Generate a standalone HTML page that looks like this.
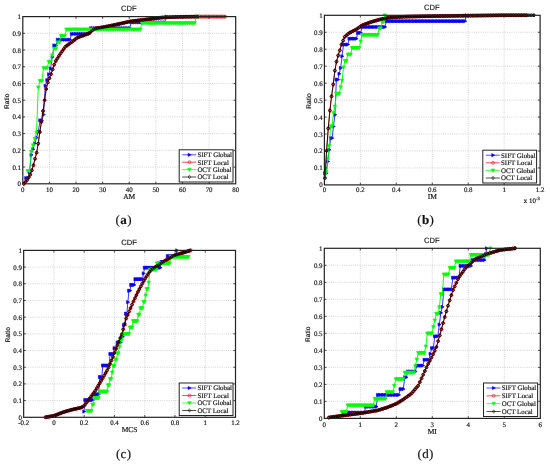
<!DOCTYPE html>
<html><head><meta charset="utf-8"><title>CDF</title>
<style>
html,body{margin:0;padding:0;background:#fff;}
body{width:550px;height:464px;overflow:hidden;}
svg{display:block;filter:blur(0.45px);}
text{text-rendering:geometricPrecision;stroke:#222;stroke-width:0.18px;}
.tk{font-family:"Liberation Serif",serif;font-size:6.9px;fill:#111;}
.ti{font-family:"Liberation Sans",sans-serif;font-size:7.6px;fill:#222;}
.yl{font-family:"Liberation Sans",sans-serif;font-size:6.6px;fill:#111;}
.xs{font-family:"Liberation Serif",serif;font-size:7.5px;fill:#111;}
.lg{font-family:"Liberation Serif",serif;font-size:6.9px;fill:#111;}
.sb{font-family:"Liberation Serif",serif;font-size:13px;fill:#111;letter-spacing:0.4px;}
</style></head><body>
<svg width="550" height="464" viewBox="0 0 550 464">
<rect width="550" height="464" fill="#fff"/>
<g>
<path d="M49.41 16.6V183.8M76.02 16.6V183.8M102.64 16.6V183.8M129.25 16.6V183.8M155.86 16.6V183.8M182.47 16.6V183.8M209.09 16.6V183.8M22.8 167.08H235.7M22.8 150.36H235.7M22.8 133.64H235.7M22.8 116.92H235.7M22.8 100.2H235.7M22.8 83.48H235.7M22.8 66.76H235.7M22.8 50.04H235.7M22.8 33.32H235.7" stroke="#bcbcbc" stroke-width="0.7" stroke-dasharray="0.9 1.3" fill="none"/>
<path d="M25.99 178.03L27.75 178.03L29.51 172.27L31.26 154.97L33.02 149.21L34.78 143.44L36.53 137.68L38.29 131.91L40.04 120.38L41.8 120.38L43.56 114.61L45.31 85.79L47.07 80.02L48.83 74.26L50.58 68.49L52.34 56.96L54.1 45.43L55.85 45.43L57.61 39.66L59.37 39.66L61.12 39.66L62.88 39.66L64.63 39.66L66.39 39.66L68.15 39.66L69.9 39.66L71.66 33.9L73.42 33.9L75.17 33.9L76.93 33.9L78.69 33.9L80.44 33.9L82.2 33.9L83.96 33.9L85.71 33.9L87.47 33.9L89.22 33.9L90.98 28.13L92.74 28.13L94.49 28.13L96.25 28.13L98.01 28.13L99.76 28.13L101.52 28.13L103.28 28.13L105.03 28.13L106.79 28.13L108.55 28.13L110.3 28.13L112.06 28.13L113.81 28.13L115.57 28.13L117.33 28.13L119.08 28.13L120.84 28.13L122.6 28.13L124.35 28.13L126.11 28.13L127.87 28.13L129.62 28.13L131.38 22.37L133.14 22.37L134.89 22.37L136.65 22.37L138.4 22.37L140.16 22.37L141.92 22.37L143.67 22.37L145.43 22.37L147.19 22.37L148.94 22.37L150.7 22.37L152.46 22.37L154.21 22.37L155.97 22.37L157.73 22.37L159.48 22.37L161.24 22.37L162.99 22.37L164.75 22.37L166.51 16.6" stroke="#0000ff" stroke-width="0.8" fill="none" stroke-linejoin="round"/>
<path d="M24.71 176.43l0 3.2l3.04 -1.6zM26.47 176.43l0 3.2l3.04 -1.6zM28.23 170.67l0 3.2l3.04 -1.6zM29.98 153.37l0 3.2l3.04 -1.6zM31.74 147.61l0 3.2l3.04 -1.6zM33.5 141.84l0 3.2l3.04 -1.6zM35.25 136.08l0 3.2l3.04 -1.6zM37.01 130.31l0 3.2l3.04 -1.6zM38.76 118.78l0 3.2l3.04 -1.6zM40.52 118.78l0 3.2l3.04 -1.6zM42.28 113.01l0 3.2l3.04 -1.6zM44.03 84.19l0 3.2l3.04 -1.6zM45.79 78.42l0 3.2l3.04 -1.6zM47.55 72.66l0 3.2l3.04 -1.6zM49.3 66.89l0 3.2l3.04 -1.6zM51.06 55.36l0 3.2l3.04 -1.6zM52.82 43.83l0 3.2l3.04 -1.6zM54.57 43.83l0 3.2l3.04 -1.6zM56.33 38.06l0 3.2l3.04 -1.6zM58.09 38.06l0 3.2l3.04 -1.6zM59.84 38.06l0 3.2l3.04 -1.6zM61.6 38.06l0 3.2l3.04 -1.6zM63.35 38.06l0 3.2l3.04 -1.6zM65.11 38.06l0 3.2l3.04 -1.6zM66.87 38.06l0 3.2l3.04 -1.6zM68.62 38.06l0 3.2l3.04 -1.6zM70.38 32.3l0 3.2l3.04 -1.6zM72.14 32.3l0 3.2l3.04 -1.6zM73.89 32.3l0 3.2l3.04 -1.6zM75.65 32.3l0 3.2l3.04 -1.6zM77.41 32.3l0 3.2l3.04 -1.6zM79.16 32.3l0 3.2l3.04 -1.6zM80.92 32.3l0 3.2l3.04 -1.6zM82.68 32.3l0 3.2l3.04 -1.6zM84.43 32.3l0 3.2l3.04 -1.6zM86.19 32.3l0 3.2l3.04 -1.6zM87.94 32.3l0 3.2l3.04 -1.6zM89.7 26.53l0 3.2l3.04 -1.6zM91.46 26.53l0 3.2l3.04 -1.6zM93.21 26.53l0 3.2l3.04 -1.6zM94.97 26.53l0 3.2l3.04 -1.6zM96.73 26.53l0 3.2l3.04 -1.6zM98.48 26.53l0 3.2l3.04 -1.6zM100.24 26.53l0 3.2l3.04 -1.6zM102 26.53l0 3.2l3.04 -1.6zM103.75 26.53l0 3.2l3.04 -1.6zM105.51 26.53l0 3.2l3.04 -1.6zM107.27 26.53l0 3.2l3.04 -1.6zM109.02 26.53l0 3.2l3.04 -1.6zM110.78 26.53l0 3.2l3.04 -1.6zM112.53 26.53l0 3.2l3.04 -1.6zM114.29 26.53l0 3.2l3.04 -1.6zM116.05 26.53l0 3.2l3.04 -1.6zM117.8 26.53l0 3.2l3.04 -1.6zM119.56 26.53l0 3.2l3.04 -1.6zM121.32 26.53l0 3.2l3.04 -1.6zM123.07 26.53l0 3.2l3.04 -1.6zM124.83 26.53l0 3.2l3.04 -1.6zM126.59 26.53l0 3.2l3.04 -1.6zM128.34 26.53l0 3.2l3.04 -1.6zM130.1 20.77l0 3.2l3.04 -1.6zM131.86 20.77l0 3.2l3.04 -1.6zM133.61 20.77l0 3.2l3.04 -1.6zM135.37 20.77l0 3.2l3.04 -1.6zM137.12 20.77l0 3.2l3.04 -1.6zM138.88 20.77l0 3.2l3.04 -1.6zM140.64 20.77l0 3.2l3.04 -1.6zM142.39 20.77l0 3.2l3.04 -1.6zM144.15 20.77l0 3.2l3.04 -1.6zM145.91 20.77l0 3.2l3.04 -1.6zM147.66 20.77l0 3.2l3.04 -1.6zM149.42 20.77l0 3.2l3.04 -1.6zM151.18 20.77l0 3.2l3.04 -1.6zM152.93 20.77l0 3.2l3.04 -1.6zM154.69 20.77l0 3.2l3.04 -1.6zM156.45 20.77l0 3.2l3.04 -1.6zM158.2 20.77l0 3.2l3.04 -1.6zM159.96 20.77l0 3.2l3.04 -1.6zM161.71 20.77l0 3.2l3.04 -1.6zM163.47 20.77l0 3.2l3.04 -1.6zM165.23 15l0 3.2l3.04 -1.6z" stroke="#0000ff" stroke-width="0.7" fill="#0000ff"/>
<path d="M23.86 183.8L25.46 181.98L27.06 180.04L28.65 177.53L30.25 174.7L31.85 170.26L33.45 165.23L35.04 158.72L36.64 152.7L38.24 143.53L39.83 131.97L41.43 121.94L43.03 111.07L44.62 100.2L46.22 88.91L47.82 82.4L49.41 78.27L51.01 74.14L52.61 69.45L54.2 64.65L55.8 60.96L57.4 58.39L58.99 55.82L60.59 53.5L62.19 51.23L63.78 48.96L65.38 46.7L66.98 45.54L68.57 44.39L70.17 43.23L71.77 42.03L73.36 40.79L74.96 39.56L76.56 38.32L78.15 37.31L79.75 36.73L81.35 36.14L82.94 35.57L84.54 34.99L86.14 34.42L87.73 33.62L89.33 32.77L90.93 31.59L92.52 30.25L94.12 29.06L95.72 28.6L97.31 28.14L98.91 27.89L100.51 27.64L102.11 27.38L103.7 27.09L105.3 26.77L106.9 26.45L108.49 26.13L110.09 25.82L111.69 25.5L113.28 25.18L114.88 24.84L116.48 24.49L118.07 24.15L119.67 23.8L121.27 23.46L122.86 23.09L124.46 22.73L126.06 22.36L127.65 22L129.25 21.63L130.85 21.35L132.44 21.16L134.04 20.97L135.64 20.78L137.23 20.59L138.83 20.4L140.43 20.21L142.02 20.01L143.62 19.81L145.22 19.61L146.81 19.41L148.41 19.21L150.01 19.01L151.6 18.81L153.2 18.61L154.8 18.41L156.39 18.21L157.99 18L159.59 17.8L161.19 17.6L162.78 17.53L164.38 17.45L165.98 17.38L167.57 17.3L169.17 17.23L170.77 17.15L172.36 17.08L173.96 17.03L175.56 16.98L177.15 16.93L178.75 16.88L180.35 16.83L181.94 16.78L183.54 16.76L185.14 16.74L186.73 16.72L188.33 16.71L189.93 16.69L191.52 16.67L193.12 16.66L194.72 16.64L196.31 16.62L197.91 16.61L199.51 16.6L201.1 16.6L202.7 16.6L204.3 16.6L205.89 16.6L207.49 16.6L209.09 16.6L210.68 16.6L212.28 16.6L213.88 16.6L215.47 16.6L217.07 16.6L218.67 16.6L220.26 16.6L221.86 16.6L223.46 16.6L225.05 16.6" stroke="#ff0000" stroke-width="0.8" fill="none" stroke-linejoin="round"/>
<path d="M22.41 183.8a1.45 1.45 0 1 0 2.9 0a1.45 1.45 0 1 0 -2.9 0zM24.01 181.98a1.45 1.45 0 1 0 2.9 0a1.45 1.45 0 1 0 -2.9 0zM25.61 180.04a1.45 1.45 0 1 0 2.9 0a1.45 1.45 0 1 0 -2.9 0zM27.2 177.53a1.45 1.45 0 1 0 2.9 0a1.45 1.45 0 1 0 -2.9 0zM28.8 174.7a1.45 1.45 0 1 0 2.9 0a1.45 1.45 0 1 0 -2.9 0zM30.4 170.26a1.45 1.45 0 1 0 2.9 0a1.45 1.45 0 1 0 -2.9 0zM32 165.23a1.45 1.45 0 1 0 2.9 0a1.45 1.45 0 1 0 -2.9 0zM33.59 158.72a1.45 1.45 0 1 0 2.9 0a1.45 1.45 0 1 0 -2.9 0zM35.19 152.7a1.45 1.45 0 1 0 2.9 0a1.45 1.45 0 1 0 -2.9 0zM36.79 143.53a1.45 1.45 0 1 0 2.9 0a1.45 1.45 0 1 0 -2.9 0zM38.38 131.97a1.45 1.45 0 1 0 2.9 0a1.45 1.45 0 1 0 -2.9 0zM39.98 121.94a1.45 1.45 0 1 0 2.9 0a1.45 1.45 0 1 0 -2.9 0zM41.58 111.07a1.45 1.45 0 1 0 2.9 0a1.45 1.45 0 1 0 -2.9 0zM43.17 100.2a1.45 1.45 0 1 0 2.9 0a1.45 1.45 0 1 0 -2.9 0zM44.77 88.91a1.45 1.45 0 1 0 2.9 0a1.45 1.45 0 1 0 -2.9 0zM46.37 82.4a1.45 1.45 0 1 0 2.9 0a1.45 1.45 0 1 0 -2.9 0zM47.96 78.27a1.45 1.45 0 1 0 2.9 0a1.45 1.45 0 1 0 -2.9 0zM49.56 74.14a1.45 1.45 0 1 0 2.9 0a1.45 1.45 0 1 0 -2.9 0zM51.16 69.45a1.45 1.45 0 1 0 2.9 0a1.45 1.45 0 1 0 -2.9 0zM52.75 64.65a1.45 1.45 0 1 0 2.9 0a1.45 1.45 0 1 0 -2.9 0zM54.35 60.96a1.45 1.45 0 1 0 2.9 0a1.45 1.45 0 1 0 -2.9 0zM55.95 58.39a1.45 1.45 0 1 0 2.9 0a1.45 1.45 0 1 0 -2.9 0zM57.54 55.82a1.45 1.45 0 1 0 2.9 0a1.45 1.45 0 1 0 -2.9 0zM59.14 53.5a1.45 1.45 0 1 0 2.9 0a1.45 1.45 0 1 0 -2.9 0zM60.74 51.23a1.45 1.45 0 1 0 2.9 0a1.45 1.45 0 1 0 -2.9 0zM62.33 48.96a1.45 1.45 0 1 0 2.9 0a1.45 1.45 0 1 0 -2.9 0zM63.93 46.7a1.45 1.45 0 1 0 2.9 0a1.45 1.45 0 1 0 -2.9 0zM65.53 45.54a1.45 1.45 0 1 0 2.9 0a1.45 1.45 0 1 0 -2.9 0zM67.12 44.39a1.45 1.45 0 1 0 2.9 0a1.45 1.45 0 1 0 -2.9 0zM68.72 43.23a1.45 1.45 0 1 0 2.9 0a1.45 1.45 0 1 0 -2.9 0zM70.32 42.03a1.45 1.45 0 1 0 2.9 0a1.45 1.45 0 1 0 -2.9 0zM71.91 40.79a1.45 1.45 0 1 0 2.9 0a1.45 1.45 0 1 0 -2.9 0zM73.51 39.56a1.45 1.45 0 1 0 2.9 0a1.45 1.45 0 1 0 -2.9 0zM75.11 38.32a1.45 1.45 0 1 0 2.9 0a1.45 1.45 0 1 0 -2.9 0zM76.7 37.31a1.45 1.45 0 1 0 2.9 0a1.45 1.45 0 1 0 -2.9 0zM78.3 36.73a1.45 1.45 0 1 0 2.9 0a1.45 1.45 0 1 0 -2.9 0zM79.9 36.14a1.45 1.45 0 1 0 2.9 0a1.45 1.45 0 1 0 -2.9 0zM81.49 35.57a1.45 1.45 0 1 0 2.9 0a1.45 1.45 0 1 0 -2.9 0zM83.09 34.99a1.45 1.45 0 1 0 2.9 0a1.45 1.45 0 1 0 -2.9 0zM84.69 34.42a1.45 1.45 0 1 0 2.9 0a1.45 1.45 0 1 0 -2.9 0zM86.28 33.62a1.45 1.45 0 1 0 2.9 0a1.45 1.45 0 1 0 -2.9 0zM87.88 32.77a1.45 1.45 0 1 0 2.9 0a1.45 1.45 0 1 0 -2.9 0zM89.48 31.59a1.45 1.45 0 1 0 2.9 0a1.45 1.45 0 1 0 -2.9 0zM91.07 30.25a1.45 1.45 0 1 0 2.9 0a1.45 1.45 0 1 0 -2.9 0zM92.67 29.06a1.45 1.45 0 1 0 2.9 0a1.45 1.45 0 1 0 -2.9 0zM94.27 28.6a1.45 1.45 0 1 0 2.9 0a1.45 1.45 0 1 0 -2.9 0zM95.86 28.14a1.45 1.45 0 1 0 2.9 0a1.45 1.45 0 1 0 -2.9 0zM97.46 27.89a1.45 1.45 0 1 0 2.9 0a1.45 1.45 0 1 0 -2.9 0zM99.06 27.64a1.45 1.45 0 1 0 2.9 0a1.45 1.45 0 1 0 -2.9 0zM100.66 27.38a1.45 1.45 0 1 0 2.9 0a1.45 1.45 0 1 0 -2.9 0zM102.25 27.09a1.45 1.45 0 1 0 2.9 0a1.45 1.45 0 1 0 -2.9 0zM103.85 26.77a1.45 1.45 0 1 0 2.9 0a1.45 1.45 0 1 0 -2.9 0zM105.45 26.45a1.45 1.45 0 1 0 2.9 0a1.45 1.45 0 1 0 -2.9 0zM107.04 26.13a1.45 1.45 0 1 0 2.9 0a1.45 1.45 0 1 0 -2.9 0zM108.64 25.82a1.45 1.45 0 1 0 2.9 0a1.45 1.45 0 1 0 -2.9 0zM110.24 25.5a1.45 1.45 0 1 0 2.9 0a1.45 1.45 0 1 0 -2.9 0zM111.83 25.18a1.45 1.45 0 1 0 2.9 0a1.45 1.45 0 1 0 -2.9 0zM113.43 24.84a1.45 1.45 0 1 0 2.9 0a1.45 1.45 0 1 0 -2.9 0zM115.03 24.49a1.45 1.45 0 1 0 2.9 0a1.45 1.45 0 1 0 -2.9 0zM116.62 24.15a1.45 1.45 0 1 0 2.9 0a1.45 1.45 0 1 0 -2.9 0zM118.22 23.8a1.45 1.45 0 1 0 2.9 0a1.45 1.45 0 1 0 -2.9 0zM119.82 23.46a1.45 1.45 0 1 0 2.9 0a1.45 1.45 0 1 0 -2.9 0zM121.41 23.09a1.45 1.45 0 1 0 2.9 0a1.45 1.45 0 1 0 -2.9 0zM123.01 22.73a1.45 1.45 0 1 0 2.9 0a1.45 1.45 0 1 0 -2.9 0zM124.61 22.36a1.45 1.45 0 1 0 2.9 0a1.45 1.45 0 1 0 -2.9 0zM126.2 22a1.45 1.45 0 1 0 2.9 0a1.45 1.45 0 1 0 -2.9 0zM127.8 21.63a1.45 1.45 0 1 0 2.9 0a1.45 1.45 0 1 0 -2.9 0zM129.4 21.35a1.45 1.45 0 1 0 2.9 0a1.45 1.45 0 1 0 -2.9 0zM130.99 21.16a1.45 1.45 0 1 0 2.9 0a1.45 1.45 0 1 0 -2.9 0zM132.59 20.97a1.45 1.45 0 1 0 2.9 0a1.45 1.45 0 1 0 -2.9 0zM134.19 20.78a1.45 1.45 0 1 0 2.9 0a1.45 1.45 0 1 0 -2.9 0zM135.78 20.59a1.45 1.45 0 1 0 2.9 0a1.45 1.45 0 1 0 -2.9 0zM137.38 20.4a1.45 1.45 0 1 0 2.9 0a1.45 1.45 0 1 0 -2.9 0zM138.98 20.21a1.45 1.45 0 1 0 2.9 0a1.45 1.45 0 1 0 -2.9 0zM140.57 20.01a1.45 1.45 0 1 0 2.9 0a1.45 1.45 0 1 0 -2.9 0zM142.17 19.81a1.45 1.45 0 1 0 2.9 0a1.45 1.45 0 1 0 -2.9 0zM143.77 19.61a1.45 1.45 0 1 0 2.9 0a1.45 1.45 0 1 0 -2.9 0zM145.36 19.41a1.45 1.45 0 1 0 2.9 0a1.45 1.45 0 1 0 -2.9 0zM146.96 19.21a1.45 1.45 0 1 0 2.9 0a1.45 1.45 0 1 0 -2.9 0zM148.56 19.01a1.45 1.45 0 1 0 2.9 0a1.45 1.45 0 1 0 -2.9 0zM150.15 18.81a1.45 1.45 0 1 0 2.9 0a1.45 1.45 0 1 0 -2.9 0zM151.75 18.61a1.45 1.45 0 1 0 2.9 0a1.45 1.45 0 1 0 -2.9 0zM153.35 18.41a1.45 1.45 0 1 0 2.9 0a1.45 1.45 0 1 0 -2.9 0zM154.94 18.21a1.45 1.45 0 1 0 2.9 0a1.45 1.45 0 1 0 -2.9 0zM156.54 18a1.45 1.45 0 1 0 2.9 0a1.45 1.45 0 1 0 -2.9 0zM158.14 17.8a1.45 1.45 0 1 0 2.9 0a1.45 1.45 0 1 0 -2.9 0zM159.74 17.6a1.45 1.45 0 1 0 2.9 0a1.45 1.45 0 1 0 -2.9 0zM161.33 17.53a1.45 1.45 0 1 0 2.9 0a1.45 1.45 0 1 0 -2.9 0zM162.93 17.45a1.45 1.45 0 1 0 2.9 0a1.45 1.45 0 1 0 -2.9 0zM164.53 17.38a1.45 1.45 0 1 0 2.9 0a1.45 1.45 0 1 0 -2.9 0zM166.12 17.3a1.45 1.45 0 1 0 2.9 0a1.45 1.45 0 1 0 -2.9 0zM167.72 17.23a1.45 1.45 0 1 0 2.9 0a1.45 1.45 0 1 0 -2.9 0zM169.32 17.15a1.45 1.45 0 1 0 2.9 0a1.45 1.45 0 1 0 -2.9 0zM170.91 17.08a1.45 1.45 0 1 0 2.9 0a1.45 1.45 0 1 0 -2.9 0zM172.51 17.03a1.45 1.45 0 1 0 2.9 0a1.45 1.45 0 1 0 -2.9 0zM174.11 16.98a1.45 1.45 0 1 0 2.9 0a1.45 1.45 0 1 0 -2.9 0zM175.7 16.93a1.45 1.45 0 1 0 2.9 0a1.45 1.45 0 1 0 -2.9 0zM177.3 16.88a1.45 1.45 0 1 0 2.9 0a1.45 1.45 0 1 0 -2.9 0zM178.9 16.83a1.45 1.45 0 1 0 2.9 0a1.45 1.45 0 1 0 -2.9 0zM180.49 16.78a1.45 1.45 0 1 0 2.9 0a1.45 1.45 0 1 0 -2.9 0zM182.09 16.76a1.45 1.45 0 1 0 2.9 0a1.45 1.45 0 1 0 -2.9 0zM183.69 16.74a1.45 1.45 0 1 0 2.9 0a1.45 1.45 0 1 0 -2.9 0zM185.28 16.72a1.45 1.45 0 1 0 2.9 0a1.45 1.45 0 1 0 -2.9 0zM186.88 16.71a1.45 1.45 0 1 0 2.9 0a1.45 1.45 0 1 0 -2.9 0zM188.48 16.69a1.45 1.45 0 1 0 2.9 0a1.45 1.45 0 1 0 -2.9 0zM190.07 16.67a1.45 1.45 0 1 0 2.9 0a1.45 1.45 0 1 0 -2.9 0zM191.67 16.66a1.45 1.45 0 1 0 2.9 0a1.45 1.45 0 1 0 -2.9 0zM193.27 16.64a1.45 1.45 0 1 0 2.9 0a1.45 1.45 0 1 0 -2.9 0zM194.86 16.62a1.45 1.45 0 1 0 2.9 0a1.45 1.45 0 1 0 -2.9 0zM196.46 16.61a1.45 1.45 0 1 0 2.9 0a1.45 1.45 0 1 0 -2.9 0zM198.06 16.6a1.45 1.45 0 1 0 2.9 0a1.45 1.45 0 1 0 -2.9 0zM199.65 16.6a1.45 1.45 0 1 0 2.9 0a1.45 1.45 0 1 0 -2.9 0zM201.25 16.6a1.45 1.45 0 1 0 2.9 0a1.45 1.45 0 1 0 -2.9 0zM202.85 16.6a1.45 1.45 0 1 0 2.9 0a1.45 1.45 0 1 0 -2.9 0zM204.44 16.6a1.45 1.45 0 1 0 2.9 0a1.45 1.45 0 1 0 -2.9 0zM206.04 16.6a1.45 1.45 0 1 0 2.9 0a1.45 1.45 0 1 0 -2.9 0zM207.64 16.6a1.45 1.45 0 1 0 2.9 0a1.45 1.45 0 1 0 -2.9 0zM209.23 16.6a1.45 1.45 0 1 0 2.9 0a1.45 1.45 0 1 0 -2.9 0zM210.83 16.6a1.45 1.45 0 1 0 2.9 0a1.45 1.45 0 1 0 -2.9 0zM212.43 16.6a1.45 1.45 0 1 0 2.9 0a1.45 1.45 0 1 0 -2.9 0zM214.02 16.6a1.45 1.45 0 1 0 2.9 0a1.45 1.45 0 1 0 -2.9 0zM215.62 16.6a1.45 1.45 0 1 0 2.9 0a1.45 1.45 0 1 0 -2.9 0zM217.22 16.6a1.45 1.45 0 1 0 2.9 0a1.45 1.45 0 1 0 -2.9 0zM218.81 16.6a1.45 1.45 0 1 0 2.9 0a1.45 1.45 0 1 0 -2.9 0zM220.41 16.6a1.45 1.45 0 1 0 2.9 0a1.45 1.45 0 1 0 -2.9 0zM222.01 16.6a1.45 1.45 0 1 0 2.9 0a1.45 1.45 0 1 0 -2.9 0zM223.6 16.6a1.45 1.45 0 1 0 2.9 0a1.45 1.45 0 1 0 -2.9 0z" stroke="#ff0000" stroke-width="1.0" fill="none"/>
<path d="M27.75 170.94L29.51 170.94L31.26 151.65L33.02 145.22L34.78 138.78L36.53 132.35L38.29 87.34L40.04 80.91L41.8 80.91L43.56 68.05L45.31 68.05L47.07 68.05L48.83 61.62L50.58 61.62L52.34 55.18L54.1 48.75L55.85 48.75L57.61 42.32L59.37 42.32L61.12 35.89L62.88 35.89L64.63 35.89L66.39 29.46L68.15 29.46L69.9 29.46L71.66 29.46L73.42 29.46L75.17 29.46L76.93 29.46L78.69 29.46L80.44 29.46L82.2 29.46L83.96 29.46L85.71 29.46L87.47 29.46L89.22 29.46L90.98 29.46L92.74 29.46L94.49 29.46L96.25 29.46L98.01 29.46L99.76 29.46L101.52 29.46L103.28 29.46L105.03 29.46L106.79 29.46L108.55 29.46L110.3 29.46L112.06 29.46L113.81 29.46L115.57 29.46L117.33 29.46L119.08 29.46L120.84 29.46L122.6 29.46L124.35 29.46L126.11 29.46L127.87 29.46L129.62 29.46L131.38 29.46L133.14 29.46L134.89 29.46L136.65 29.46L138.4 29.46L140.16 29.46L141.92 23.03L143.67 23.03L145.43 23.03L147.19 23.03L148.94 23.03L150.7 23.03L152.46 23.03L154.21 23.03L155.97 23.03L157.73 23.03L159.48 23.03L161.24 23.03L162.99 23.03L164.75 23.03L166.51 23.03L168.26 23.03L170.02 23.03L171.78 23.03L173.53 23.03L175.29 23.03L177.05 23.03L178.8 23.03L180.56 23.03L182.32 23.03L184.07 23.03L185.83 23.03L187.58 23.03L189.34 23.03L191.1 23.03L192.85 23.03L194.61 23.03L196.37 16.6L198.12 16.6" stroke="#00ff00" stroke-width="0.9" fill="none" stroke-linejoin="round"/>
<path d="M26.05 169.58l3.4 0l-1.7 3.23zM27.81 169.58l3.4 0l-1.7 3.23zM29.56 150.29l3.4 0l-1.7 3.23zM31.32 143.86l3.4 0l-1.7 3.23zM33.08 137.42l3.4 0l-1.7 3.23zM34.83 130.99l3.4 0l-1.7 3.23zM36.59 85.98l3.4 0l-1.7 3.23zM38.34 79.55l3.4 0l-1.7 3.23zM40.1 79.55l3.4 0l-1.7 3.23zM41.86 66.69l3.4 0l-1.7 3.23zM43.61 66.69l3.4 0l-1.7 3.23zM45.37 66.69l3.4 0l-1.7 3.23zM47.13 60.26l3.4 0l-1.7 3.23zM48.88 60.26l3.4 0l-1.7 3.23zM50.64 53.82l3.4 0l-1.7 3.23zM52.4 47.39l3.4 0l-1.7 3.23zM54.15 47.39l3.4 0l-1.7 3.23zM55.91 40.96l3.4 0l-1.7 3.23zM57.67 40.96l3.4 0l-1.7 3.23zM59.42 34.53l3.4 0l-1.7 3.23zM61.18 34.53l3.4 0l-1.7 3.23zM62.93 34.53l3.4 0l-1.7 3.23zM64.69 28.1l3.4 0l-1.7 3.23zM66.45 28.1l3.4 0l-1.7 3.23zM68.2 28.1l3.4 0l-1.7 3.23zM69.96 28.1l3.4 0l-1.7 3.23zM71.72 28.1l3.4 0l-1.7 3.23zM73.47 28.1l3.4 0l-1.7 3.23zM75.23 28.1l3.4 0l-1.7 3.23zM76.99 28.1l3.4 0l-1.7 3.23zM78.74 28.1l3.4 0l-1.7 3.23zM80.5 28.1l3.4 0l-1.7 3.23zM82.26 28.1l3.4 0l-1.7 3.23zM84.01 28.1l3.4 0l-1.7 3.23zM85.77 28.1l3.4 0l-1.7 3.23zM87.52 28.1l3.4 0l-1.7 3.23zM89.28 28.1l3.4 0l-1.7 3.23zM91.04 28.1l3.4 0l-1.7 3.23zM92.79 28.1l3.4 0l-1.7 3.23zM94.55 28.1l3.4 0l-1.7 3.23zM96.31 28.1l3.4 0l-1.7 3.23zM98.06 28.1l3.4 0l-1.7 3.23zM99.82 28.1l3.4 0l-1.7 3.23zM101.58 28.1l3.4 0l-1.7 3.23zM103.33 28.1l3.4 0l-1.7 3.23zM105.09 28.1l3.4 0l-1.7 3.23zM106.85 28.1l3.4 0l-1.7 3.23zM108.6 28.1l3.4 0l-1.7 3.23zM110.36 28.1l3.4 0l-1.7 3.23zM112.11 28.1l3.4 0l-1.7 3.23zM113.87 28.1l3.4 0l-1.7 3.23zM115.63 28.1l3.4 0l-1.7 3.23zM117.38 28.1l3.4 0l-1.7 3.23zM119.14 28.1l3.4 0l-1.7 3.23zM120.9 28.1l3.4 0l-1.7 3.23zM122.65 28.1l3.4 0l-1.7 3.23zM124.41 28.1l3.4 0l-1.7 3.23zM126.17 28.1l3.4 0l-1.7 3.23zM127.92 28.1l3.4 0l-1.7 3.23zM129.68 28.1l3.4 0l-1.7 3.23zM131.44 28.1l3.4 0l-1.7 3.23zM133.19 28.1l3.4 0l-1.7 3.23zM134.95 28.1l3.4 0l-1.7 3.23zM136.7 28.1l3.4 0l-1.7 3.23zM138.46 28.1l3.4 0l-1.7 3.23zM140.22 21.67l3.4 0l-1.7 3.23zM141.97 21.67l3.4 0l-1.7 3.23zM143.73 21.67l3.4 0l-1.7 3.23zM145.49 21.67l3.4 0l-1.7 3.23zM147.24 21.67l3.4 0l-1.7 3.23zM149 21.67l3.4 0l-1.7 3.23zM150.76 21.67l3.4 0l-1.7 3.23zM152.51 21.67l3.4 0l-1.7 3.23zM154.27 21.67l3.4 0l-1.7 3.23zM156.03 21.67l3.4 0l-1.7 3.23zM157.78 21.67l3.4 0l-1.7 3.23zM159.54 21.67l3.4 0l-1.7 3.23zM161.29 21.67l3.4 0l-1.7 3.23zM163.05 21.67l3.4 0l-1.7 3.23zM164.81 21.67l3.4 0l-1.7 3.23zM166.56 21.67l3.4 0l-1.7 3.23zM168.32 21.67l3.4 0l-1.7 3.23zM170.08 21.67l3.4 0l-1.7 3.23zM171.83 21.67l3.4 0l-1.7 3.23zM173.59 21.67l3.4 0l-1.7 3.23zM175.35 21.67l3.4 0l-1.7 3.23zM177.1 21.67l3.4 0l-1.7 3.23zM178.86 21.67l3.4 0l-1.7 3.23zM180.62 21.67l3.4 0l-1.7 3.23zM182.37 21.67l3.4 0l-1.7 3.23zM184.13 21.67l3.4 0l-1.7 3.23zM185.88 21.67l3.4 0l-1.7 3.23zM187.64 21.67l3.4 0l-1.7 3.23zM189.4 21.67l3.4 0l-1.7 3.23zM191.15 21.67l3.4 0l-1.7 3.23zM192.91 21.67l3.4 0l-1.7 3.23zM194.67 15.24l3.4 0l-1.7 3.23zM196.42 15.24l3.4 0l-1.7 3.23z" stroke="#00ff00" stroke-width="0.7" fill="#00ff00"/>
<path d="M23.86 183.8L25.46 181.98L27.06 180.04L28.65 177.53L30.25 174.7L31.85 170.26L33.45 165.23L35.04 158.72L36.64 152.7L38.24 143.53L39.83 131.97L41.43 121.94L43.03 111.07L44.62 100.2L46.22 88.91L47.82 82.4L49.41 78.27L51.01 74.14L52.61 69.45L54.2 64.65L55.8 60.96L57.4 58.39L58.99 55.82L60.59 53.5L62.19 51.23L63.78 48.96L65.38 46.7L66.98 45.54L68.57 44.39L70.17 43.23L71.77 42.03L73.36 40.79L74.96 39.56L76.56 38.32L78.15 37.31L79.75 36.73L81.35 36.14L82.94 35.57L84.54 34.99L86.14 34.42L87.73 33.62L89.33 32.77L90.93 31.59L92.52 30.25L94.12 29.06L95.72 28.6L97.31 28.14L98.91 27.89L100.51 27.64L102.11 27.38L103.7 27.09L105.3 26.77L106.9 26.45L108.49 26.13L110.09 25.82L111.69 25.5L113.28 25.18L114.88 24.84L116.48 24.49L118.07 24.15L119.67 23.8L121.27 23.46L122.86 23.09L124.46 22.73L126.06 22.36L127.65 22L129.25 21.63L130.85 21.35L132.44 21.16L134.04 20.97L135.64 20.78L137.23 20.59L138.83 20.4L140.43 20.21L142.02 20.01L143.62 19.81L145.22 19.61L146.81 19.41L148.41 19.21L150.01 19.01L151.6 18.81L153.2 18.61L154.8 18.41L156.39 18.21L157.99 18L159.59 17.8L161.19 17.6L162.78 17.53L164.38 17.45L165.98 17.38L167.57 17.3L169.17 17.23L170.77 17.15L172.36 17.08L173.96 17.03L175.56 16.98L177.15 16.93L178.75 16.88L180.35 16.83L181.94 16.78L183.54 16.76L185.14 16.74L186.73 16.72L188.33 16.71L189.93 16.69L191.52 16.67L193.12 16.66L194.72 16.64L196.31 16.62L197.91 16.61" stroke="#000000" stroke-width="0.8" fill="none" stroke-linejoin="round"/>
<path d="M23.86 182.11l1.25 1.69l-1.25 1.69l-1.25 -1.69zM25.46 180.29l1.25 1.69l-1.25 1.69l-1.25 -1.69zM27.06 178.35l1.25 1.69l-1.25 1.69l-1.25 -1.69zM28.65 175.84l1.25 1.69l-1.25 1.69l-1.25 -1.69zM30.25 173.01l1.25 1.69l-1.25 1.69l-1.25 -1.69zM31.85 168.57l1.25 1.69l-1.25 1.69l-1.25 -1.69zM33.45 163.55l1.25 1.69l-1.25 1.69l-1.25 -1.69zM35.04 157.03l1.25 1.69l-1.25 1.69l-1.25 -1.69zM36.64 151.01l1.25 1.69l-1.25 1.69l-1.25 -1.69zM38.24 141.84l1.25 1.69l-1.25 1.69l-1.25 -1.69zM39.83 130.28l1.25 1.69l-1.25 1.69l-1.25 -1.69zM41.43 120.25l1.25 1.69l-1.25 1.69l-1.25 -1.69zM43.03 109.38l1.25 1.69l-1.25 1.69l-1.25 -1.69zM44.62 98.51l1.25 1.69l-1.25 1.69l-1.25 -1.69zM46.22 87.23l1.25 1.69l-1.25 1.69l-1.25 -1.69zM47.82 80.71l1.25 1.69l-1.25 1.69l-1.25 -1.69zM49.41 76.58l1.25 1.69l-1.25 1.69l-1.25 -1.69zM51.01 72.45l1.25 1.69l-1.25 1.69l-1.25 -1.69zM52.61 67.76l1.25 1.69l-1.25 1.69l-1.25 -1.69zM54.2 62.96l1.25 1.69l-1.25 1.69l-1.25 -1.69zM55.8 59.27l1.25 1.69l-1.25 1.69l-1.25 -1.69zM57.4 56.7l1.25 1.69l-1.25 1.69l-1.25 -1.69zM58.99 54.13l1.25 1.69l-1.25 1.69l-1.25 -1.69zM60.59 51.81l1.25 1.69l-1.25 1.69l-1.25 -1.69zM62.19 49.54l1.25 1.69l-1.25 1.69l-1.25 -1.69zM63.78 47.28l1.25 1.69l-1.25 1.69l-1.25 -1.69zM65.38 45.01l1.25 1.69l-1.25 1.69l-1.25 -1.69zM66.98 43.85l1.25 1.69l-1.25 1.69l-1.25 -1.69zM68.57 42.7l1.25 1.69l-1.25 1.69l-1.25 -1.69zM70.17 41.55l1.25 1.69l-1.25 1.69l-1.25 -1.69zM71.77 40.34l1.25 1.69l-1.25 1.69l-1.25 -1.69zM73.36 39.11l1.25 1.69l-1.25 1.69l-1.25 -1.69zM74.96 37.87l1.25 1.69l-1.25 1.69l-1.25 -1.69zM76.56 36.64l1.25 1.69l-1.25 1.69l-1.25 -1.69zM78.15 35.62l1.25 1.69l-1.25 1.69l-1.25 -1.69zM79.75 35.04l1.25 1.69l-1.25 1.69l-1.25 -1.69zM81.35 34.46l1.25 1.69l-1.25 1.69l-1.25 -1.69zM82.94 33.88l1.25 1.69l-1.25 1.69l-1.25 -1.69zM84.54 33.3l1.25 1.69l-1.25 1.69l-1.25 -1.69zM86.14 32.73l1.25 1.69l-1.25 1.69l-1.25 -1.69zM87.73 31.93l1.25 1.69l-1.25 1.69l-1.25 -1.69zM89.33 31.08l1.25 1.69l-1.25 1.69l-1.25 -1.69zM90.93 29.9l1.25 1.69l-1.25 1.69l-1.25 -1.69zM92.52 28.57l1.25 1.69l-1.25 1.69l-1.25 -1.69zM94.12 27.38l1.25 1.69l-1.25 1.69l-1.25 -1.69zM95.72 26.91l1.25 1.69l-1.25 1.69l-1.25 -1.69zM97.31 26.45l1.25 1.69l-1.25 1.69l-1.25 -1.69zM98.91 26.2l1.25 1.69l-1.25 1.69l-1.25 -1.69zM100.51 25.95l1.25 1.69l-1.25 1.69l-1.25 -1.69zM102.11 25.7l1.25 1.69l-1.25 1.69l-1.25 -1.69zM103.7 25.4l1.25 1.69l-1.25 1.69l-1.25 -1.69zM105.3 25.08l1.25 1.69l-1.25 1.69l-1.25 -1.69zM106.9 24.77l1.25 1.69l-1.25 1.69l-1.25 -1.69zM108.49 24.45l1.25 1.69l-1.25 1.69l-1.25 -1.69zM110.09 24.13l1.25 1.69l-1.25 1.69l-1.25 -1.69zM111.69 23.81l1.25 1.69l-1.25 1.69l-1.25 -1.69zM113.28 23.49l1.25 1.69l-1.25 1.69l-1.25 -1.69zM114.88 23.15l1.25 1.69l-1.25 1.69l-1.25 -1.69zM116.48 22.81l1.25 1.69l-1.25 1.69l-1.25 -1.69zM118.07 22.46l1.25 1.69l-1.25 1.69l-1.25 -1.69zM119.67 22.11l1.25 1.69l-1.25 1.69l-1.25 -1.69zM121.27 21.77l1.25 1.69l-1.25 1.69l-1.25 -1.69zM122.86 21.4l1.25 1.69l-1.25 1.69l-1.25 -1.69zM124.46 21.04l1.25 1.69l-1.25 1.69l-1.25 -1.69zM126.06 20.67l1.25 1.69l-1.25 1.69l-1.25 -1.69zM127.65 20.31l1.25 1.69l-1.25 1.69l-1.25 -1.69zM129.25 19.94l1.25 1.69l-1.25 1.69l-1.25 -1.69zM130.85 19.67l1.25 1.69l-1.25 1.69l-1.25 -1.69zM132.44 19.48l1.25 1.69l-1.25 1.69l-1.25 -1.69zM134.04 19.29l1.25 1.69l-1.25 1.69l-1.25 -1.69zM135.64 19.1l1.25 1.69l-1.25 1.69l-1.25 -1.69zM137.23 18.91l1.25 1.69l-1.25 1.69l-1.25 -1.69zM138.83 18.72l1.25 1.69l-1.25 1.69l-1.25 -1.69zM140.43 18.52l1.25 1.69l-1.25 1.69l-1.25 -1.69zM142.02 18.32l1.25 1.69l-1.25 1.69l-1.25 -1.69zM143.62 18.12l1.25 1.69l-1.25 1.69l-1.25 -1.69zM145.22 17.92l1.25 1.69l-1.25 1.69l-1.25 -1.69zM146.81 17.72l1.25 1.69l-1.25 1.69l-1.25 -1.69zM148.41 17.52l1.25 1.69l-1.25 1.69l-1.25 -1.69zM150.01 17.32l1.25 1.69l-1.25 1.69l-1.25 -1.69zM151.6 17.12l1.25 1.69l-1.25 1.69l-1.25 -1.69zM153.2 16.92l1.25 1.69l-1.25 1.69l-1.25 -1.69zM154.8 16.72l1.25 1.69l-1.25 1.69l-1.25 -1.69zM156.39 16.52l1.25 1.69l-1.25 1.69l-1.25 -1.69zM157.99 16.32l1.25 1.69l-1.25 1.69l-1.25 -1.69zM159.59 16.12l1.25 1.69l-1.25 1.69l-1.25 -1.69zM161.19 15.92l1.25 1.69l-1.25 1.69l-1.25 -1.69zM162.78 15.84l1.25 1.69l-1.25 1.69l-1.25 -1.69zM164.38 15.77l1.25 1.69l-1.25 1.69l-1.25 -1.69zM165.98 15.69l1.25 1.69l-1.25 1.69l-1.25 -1.69zM167.57 15.61l1.25 1.69l-1.25 1.69l-1.25 -1.69zM169.17 15.54l1.25 1.69l-1.25 1.69l-1.25 -1.69zM170.77 15.46l1.25 1.69l-1.25 1.69l-1.25 -1.69zM172.36 15.4l1.25 1.69l-1.25 1.69l-1.25 -1.69zM173.96 15.35l1.25 1.69l-1.25 1.69l-1.25 -1.69zM175.56 15.3l1.25 1.69l-1.25 1.69l-1.25 -1.69zM177.15 15.25l1.25 1.69l-1.25 1.69l-1.25 -1.69zM178.75 15.2l1.25 1.69l-1.25 1.69l-1.25 -1.69zM180.35 15.15l1.25 1.69l-1.25 1.69l-1.25 -1.69zM181.94 15.1l1.25 1.69l-1.25 1.69l-1.25 -1.69zM183.54 15.07l1.25 1.69l-1.25 1.69l-1.25 -1.69zM185.14 15.05l1.25 1.69l-1.25 1.69l-1.25 -1.69zM186.73 15.04l1.25 1.69l-1.25 1.69l-1.25 -1.69zM188.33 15.02l1.25 1.69l-1.25 1.69l-1.25 -1.69zM189.93 15l1.25 1.69l-1.25 1.69l-1.25 -1.69zM191.52 14.98l1.25 1.69l-1.25 1.69l-1.25 -1.69zM193.12 14.97l1.25 1.69l-1.25 1.69l-1.25 -1.69zM194.72 14.95l1.25 1.69l-1.25 1.69l-1.25 -1.69zM196.31 14.93l1.25 1.69l-1.25 1.69l-1.25 -1.69zM197.91 14.92l1.25 1.69l-1.25 1.69l-1.25 -1.69z" stroke="#000000" stroke-width="0.8" fill="none"/>
<rect x="22.8" y="16.6" width="212.9" height="167.2" fill="none" stroke="#222" stroke-width="1.2"/>
<path d="M49.41 183.8v-2.2M49.41 16.6v2.2M76.02 183.8v-2.2M76.02 16.6v2.2M102.64 183.8v-2.2M102.64 16.6v2.2M129.25 183.8v-2.2M129.25 16.6v2.2M155.86 183.8v-2.2M155.86 16.6v2.2M182.47 183.8v-2.2M182.47 16.6v2.2M209.09 183.8v-2.2M209.09 16.6v2.2M22.8 167.08h2.2M235.7 167.08h-2.2M22.8 150.36h2.2M235.7 150.36h-2.2M22.8 133.64h2.2M235.7 133.64h-2.2M22.8 116.92h2.2M235.7 116.92h-2.2M22.8 100.2h2.2M235.7 100.2h-2.2M22.8 83.48h2.2M235.7 83.48h-2.2M22.8 66.76h2.2M235.7 66.76h-2.2M22.8 50.04h2.2M235.7 50.04h-2.2M22.8 33.32h2.2M235.7 33.32h-2.2" stroke="#222" stroke-width="0.8" fill="none"/>
<text x="22.8" y="192.2" class="tk" text-anchor="middle">0</text>
<text x="49.41" y="192.2" class="tk" text-anchor="middle">10</text>
<text x="76.02" y="192.2" class="tk" text-anchor="middle">20</text>
<text x="102.64" y="192.2" class="tk" text-anchor="middle">30</text>
<text x="129.25" y="192.2" class="tk" text-anchor="middle">40</text>
<text x="155.86" y="192.2" class="tk" text-anchor="middle">50</text>
<text x="182.47" y="192.2" class="tk" text-anchor="middle">60</text>
<text x="209.09" y="192.2" class="tk" text-anchor="middle">70</text>
<text x="235.7" y="192.2" class="tk" text-anchor="middle">80</text>
<text x="21" y="186.3" class="tk" text-anchor="end">0</text>
<text x="21" y="169.58" class="tk" text-anchor="end">0.1</text>
<text x="21" y="152.86" class="tk" text-anchor="end">0.2</text>
<text x="21" y="136.14" class="tk" text-anchor="end">0.3</text>
<text x="21" y="119.42" class="tk" text-anchor="end">0.4</text>
<text x="21" y="102.7" class="tk" text-anchor="end">0.5</text>
<text x="21" y="85.98" class="tk" text-anchor="end">0.6</text>
<text x="21" y="69.26" class="tk" text-anchor="end">0.7</text>
<text x="21" y="52.54" class="tk" text-anchor="end">0.8</text>
<text x="21" y="35.82" class="tk" text-anchor="end">0.9</text>
<text x="21" y="19.1" class="tk" text-anchor="end">1</text>
<text x="128.75" y="11.4" class="ti" text-anchor="middle">CDF</text>
<text transform="translate(8.9 101.2) rotate(-90)" class="yl" text-anchor="middle">Ratio</text>
<text x="129.25" y="199.1" class="xs" text-anchor="middle">AM</text>
<rect x="179.2" y="149.8" width="53.8" height="32.2" fill="#fff" stroke="#222" stroke-width="1"/>
<path d="M182.2 154.8h14" stroke="#0000ff" stroke-width="0.7"/>
<path d="M188.12 153.2l0 3.2l3.04 -1.6z" stroke="#0000ff" stroke-width="0.6" fill="#0000ff"/>
<text x="197.4" y="157.1" class="lg">SIFT Global</text>
<path d="M182.2 162.2h14" stroke="#ff0000" stroke-width="0.7"/>
<path d="M187.95 162.2a1.45 1.45 0 1 0 2.9 0a1.45 1.45 0 1 0 -2.9 0z" stroke="#ff0000" stroke-width="0.6" fill="none"/>
<text x="197.4" y="164.5" class="lg">SIFT Local</text>
<path d="M182.2 169.6h14" stroke="#00ff00" stroke-width="0.7"/>
<path d="M187.7 168.24l3.4 0l-1.7 3.23z" stroke="#00ff00" stroke-width="0.6" fill="#00ff00"/>
<text x="197.4" y="171.9" class="lg">OCT Global</text>
<path d="M182.2 177h14" stroke="#000000" stroke-width="0.7"/>
<path d="M189.4 175.31l1.25 1.69l-1.25 1.69l-1.25 -1.69z" stroke="#000000" stroke-width="0.6" fill="none"/>
<text x="197.4" y="179.3" class="lg">OCT Local</text>
<text x="123.7" y="223.7" class="sb" text-anchor="middle">(<tspan font-weight="bold">a</tspan>)</text>
</g>
<g>
<path d="M360.35 15.3V184.9M396.3 15.3V184.9M432.25 15.3V184.9M468.2 15.3V184.9M504.15 15.3V184.9M324.4 167.94H540.1M324.4 150.98H540.1M324.4 134.02H540.1M324.4 117.06H540.1M324.4 100.1H540.1M324.4 83.14H540.1M324.4 66.18H540.1M324.4 49.22H540.1M324.4 32.26H540.1" stroke="#bcbcbc" stroke-width="0.7" stroke-dasharray="0.9 1.3" fill="none"/>
<path d="M324.94 173.2L326.37 173.2L327.8 161.51L329.23 149.81L330.66 138.11L332.08 138.11L333.51 126.42L334.94 114.72L336.37 79.63L337.8 79.63L339.23 73.78L340.66 67.93L342.09 56.24L343.52 44.54L344.95 44.54L346.37 44.54L347.8 44.54L349.23 38.69L350.66 38.69L352.09 38.69L353.52 38.69L354.95 38.69L356.38 38.69L357.81 32.84L359.24 32.84L360.66 32.84L362.09 27L363.52 27L364.95 27L366.38 27L367.81 27L369.24 27L370.67 27L372.1 27L373.53 27L374.95 27L376.38 27L377.81 27L379.24 27L380.67 27L382.1 27L383.53 27L384.96 27L386.39 21.15L387.82 21.15L389.24 21.15L390.67 21.15L392.1 21.15L393.53 21.15L394.96 21.15L396.39 21.15L397.82 21.15L399.25 21.15L400.68 21.15L402.11 21.15L403.53 21.15L404.96 21.15L406.39 21.15L407.82 21.15L409.25 21.15L410.68 21.15L412.11 21.15L413.54 21.15L414.97 21.15L416.4 21.15L417.83 21.15L419.25 21.15L420.68 21.15L422.11 21.15L423.54 21.15L424.97 21.15L426.4 21.15L427.83 21.15L429.26 21.15L430.69 21.15L432.12 21.15L433.54 21.15L434.97 21.15L436.4 21.15L437.83 21.15L439.26 21.15L440.69 21.15L442.12 21.15L443.55 21.15L444.98 21.15L446.41 21.15L447.83 21.15L449.26 21.15L450.69 21.15L452.12 21.15L453.55 21.15L454.98 21.15L456.41 21.15L457.84 21.15L459.27 21.15L460.7 21.15L462.12 21.15L463.55 21.15L464.98 21.15L466.4 15.3" stroke="#0000ff" stroke-width="0.8" fill="none" stroke-linejoin="round"/>
<path d="M323.66 171.6l0 3.2l3.04 -1.6zM325.09 171.6l0 3.2l3.04 -1.6zM326.52 159.91l0 3.2l3.04 -1.6zM327.95 148.21l0 3.2l3.04 -1.6zM329.38 136.51l0 3.2l3.04 -1.6zM330.8 136.51l0 3.2l3.04 -1.6zM332.23 124.82l0 3.2l3.04 -1.6zM333.66 113.12l0 3.2l3.04 -1.6zM335.09 78.03l0 3.2l3.04 -1.6zM336.52 78.03l0 3.2l3.04 -1.6zM337.95 72.18l0 3.2l3.04 -1.6zM339.38 66.33l0 3.2l3.04 -1.6zM340.81 54.64l0 3.2l3.04 -1.6zM342.24 42.94l0 3.2l3.04 -1.6zM343.67 42.94l0 3.2l3.04 -1.6zM345.09 42.94l0 3.2l3.04 -1.6zM346.52 42.94l0 3.2l3.04 -1.6zM347.95 37.09l0 3.2l3.04 -1.6zM349.38 37.09l0 3.2l3.04 -1.6zM350.81 37.09l0 3.2l3.04 -1.6zM352.24 37.09l0 3.2l3.04 -1.6zM353.67 37.09l0 3.2l3.04 -1.6zM355.1 37.09l0 3.2l3.04 -1.6zM356.53 31.24l0 3.2l3.04 -1.6zM357.96 31.24l0 3.2l3.04 -1.6zM359.38 31.24l0 3.2l3.04 -1.6zM360.81 25.4l0 3.2l3.04 -1.6zM362.24 25.4l0 3.2l3.04 -1.6zM363.67 25.4l0 3.2l3.04 -1.6zM365.1 25.4l0 3.2l3.04 -1.6zM366.53 25.4l0 3.2l3.04 -1.6zM367.96 25.4l0 3.2l3.04 -1.6zM369.39 25.4l0 3.2l3.04 -1.6zM370.82 25.4l0 3.2l3.04 -1.6zM372.25 25.4l0 3.2l3.04 -1.6zM373.67 25.4l0 3.2l3.04 -1.6zM375.1 25.4l0 3.2l3.04 -1.6zM376.53 25.4l0 3.2l3.04 -1.6zM377.96 25.4l0 3.2l3.04 -1.6zM379.39 25.4l0 3.2l3.04 -1.6zM380.82 25.4l0 3.2l3.04 -1.6zM382.25 25.4l0 3.2l3.04 -1.6zM383.68 25.4l0 3.2l3.04 -1.6zM385.11 19.55l0 3.2l3.04 -1.6zM386.54 19.55l0 3.2l3.04 -1.6zM387.96 19.55l0 3.2l3.04 -1.6zM389.39 19.55l0 3.2l3.04 -1.6zM390.82 19.55l0 3.2l3.04 -1.6zM392.25 19.55l0 3.2l3.04 -1.6zM393.68 19.55l0 3.2l3.04 -1.6zM395.11 19.55l0 3.2l3.04 -1.6zM396.54 19.55l0 3.2l3.04 -1.6zM397.97 19.55l0 3.2l3.04 -1.6zM399.4 19.55l0 3.2l3.04 -1.6zM400.83 19.55l0 3.2l3.04 -1.6zM402.25 19.55l0 3.2l3.04 -1.6zM403.68 19.55l0 3.2l3.04 -1.6zM405.11 19.55l0 3.2l3.04 -1.6zM406.54 19.55l0 3.2l3.04 -1.6zM407.97 19.55l0 3.2l3.04 -1.6zM409.4 19.55l0 3.2l3.04 -1.6zM410.83 19.55l0 3.2l3.04 -1.6zM412.26 19.55l0 3.2l3.04 -1.6zM413.69 19.55l0 3.2l3.04 -1.6zM415.12 19.55l0 3.2l3.04 -1.6zM416.55 19.55l0 3.2l3.04 -1.6zM417.97 19.55l0 3.2l3.04 -1.6zM419.4 19.55l0 3.2l3.04 -1.6zM420.83 19.55l0 3.2l3.04 -1.6zM422.26 19.55l0 3.2l3.04 -1.6zM423.69 19.55l0 3.2l3.04 -1.6zM425.12 19.55l0 3.2l3.04 -1.6zM426.55 19.55l0 3.2l3.04 -1.6zM427.98 19.55l0 3.2l3.04 -1.6zM429.41 19.55l0 3.2l3.04 -1.6zM430.84 19.55l0 3.2l3.04 -1.6zM432.26 19.55l0 3.2l3.04 -1.6zM433.69 19.55l0 3.2l3.04 -1.6zM435.12 19.55l0 3.2l3.04 -1.6zM436.55 19.55l0 3.2l3.04 -1.6zM437.98 19.55l0 3.2l3.04 -1.6zM439.41 19.55l0 3.2l3.04 -1.6zM440.84 19.55l0 3.2l3.04 -1.6zM442.27 19.55l0 3.2l3.04 -1.6zM443.7 19.55l0 3.2l3.04 -1.6zM445.13 19.55l0 3.2l3.04 -1.6zM446.55 19.55l0 3.2l3.04 -1.6zM447.98 19.55l0 3.2l3.04 -1.6zM449.41 19.55l0 3.2l3.04 -1.6zM450.84 19.55l0 3.2l3.04 -1.6zM452.27 19.55l0 3.2l3.04 -1.6zM453.7 19.55l0 3.2l3.04 -1.6zM455.13 19.55l0 3.2l3.04 -1.6zM456.56 19.55l0 3.2l3.04 -1.6zM457.99 19.55l0 3.2l3.04 -1.6zM459.42 19.55l0 3.2l3.04 -1.6zM460.84 19.55l0 3.2l3.04 -1.6zM462.27 19.55l0 3.2l3.04 -1.6zM463.7 19.55l0 3.2l3.04 -1.6zM465.12 13.7l0 3.2l3.04 -1.6z" stroke="#0000ff" stroke-width="0.7" fill="#0000ff"/>
<path d="M324.94 178.12L326.59 150.74L328.25 128.37L329.9 110.5L331.55 96.35L333.21 84.44L334.86 70.62L336.52 61.6L338.17 55.5L339.82 50.4L341.48 44.47L343.13 40.57L344.78 36.78L346.44 35.34L348.09 33.91L349.74 32.67L351.4 31.85L353.05 31.04L354.71 30.22L356.36 29.4L358.01 28.27L359.67 27.03L361.32 25.79L362.97 24.94L364.63 24.33L366.28 23.73L367.94 23.12L369.59 22.52L371.24 21.95L372.9 21.47L374.55 20.99L376.2 20.52L377.86 20.04L379.51 19.56L381.17 19.23L382.82 18.9L384.47 18.57L386.13 18.24L387.78 17.91L389.43 17.58L391.09 17.44L392.74 17.35L394.39 17.25L396.05 17.16L397.7 17.07L399.36 16.98L401.01 16.89L402.66 16.8L404.32 16.71L405.97 16.64L407.62 16.61L409.28 16.58L410.93 16.55L412.59 16.52L414.24 16.49L415.89 16.46L417.55 16.43L419.2 16.39L420.85 16.36L422.51 16.33L424.16 16.3L425.81 16.27L427.47 16.24L429.12 16.21L430.78 16.18L432.43 16.15L434.08 16.12L435.74 16.1L437.39 16.08L439.04 16.05L440.7 16.03L442.35 16.01L444.01 15.98L445.66 15.96L447.31 15.93L448.97 15.91L450.62 15.89L452.27 15.86L453.93 15.84L455.58 15.82L457.24 15.79L458.89 15.77L460.54 15.75L462.2 15.72L463.85 15.7L465.5 15.68L467.16 15.65L468.81 15.63L470.46 15.62L472.12 15.6L473.77 15.59L475.43 15.57L477.08 15.56L478.73 15.54L480.39 15.52L482.04 15.51L483.69 15.49L485.35 15.48L487 15.46L488.66 15.45L490.31 15.43L491.96 15.41L493.62 15.4L495.27 15.38L496.92 15.37L498.58 15.35L500.23 15.34L501.89 15.32L503.54 15.31L505.19 15.3L506.85 15.3L508.5 15.3L510.15 15.3L511.81 15.3L513.46 15.3L515.11 15.3L516.77 15.3L518.42 15.3L520.08 15.3L521.73 15.3L523.38 15.3L525.04 15.3L526.62 15.3" stroke="#ff0000" stroke-width="0.8" fill="none" stroke-linejoin="round"/>
<path d="M323.49 178.12a1.45 1.45 0 1 0 2.9 0a1.45 1.45 0 1 0 -2.9 0zM325.14 150.74a1.45 1.45 0 1 0 2.9 0a1.45 1.45 0 1 0 -2.9 0zM326.8 128.37a1.45 1.45 0 1 0 2.9 0a1.45 1.45 0 1 0 -2.9 0zM328.45 110.5a1.45 1.45 0 1 0 2.9 0a1.45 1.45 0 1 0 -2.9 0zM330.1 96.35a1.45 1.45 0 1 0 2.9 0a1.45 1.45 0 1 0 -2.9 0zM331.76 84.44a1.45 1.45 0 1 0 2.9 0a1.45 1.45 0 1 0 -2.9 0zM333.41 70.62a1.45 1.45 0 1 0 2.9 0a1.45 1.45 0 1 0 -2.9 0zM335.07 61.6a1.45 1.45 0 1 0 2.9 0a1.45 1.45 0 1 0 -2.9 0zM336.72 55.5a1.45 1.45 0 1 0 2.9 0a1.45 1.45 0 1 0 -2.9 0zM338.37 50.4a1.45 1.45 0 1 0 2.9 0a1.45 1.45 0 1 0 -2.9 0zM340.03 44.47a1.45 1.45 0 1 0 2.9 0a1.45 1.45 0 1 0 -2.9 0zM341.68 40.57a1.45 1.45 0 1 0 2.9 0a1.45 1.45 0 1 0 -2.9 0zM343.33 36.78a1.45 1.45 0 1 0 2.9 0a1.45 1.45 0 1 0 -2.9 0zM344.99 35.34a1.45 1.45 0 1 0 2.9 0a1.45 1.45 0 1 0 -2.9 0zM346.64 33.91a1.45 1.45 0 1 0 2.9 0a1.45 1.45 0 1 0 -2.9 0zM348.29 32.67a1.45 1.45 0 1 0 2.9 0a1.45 1.45 0 1 0 -2.9 0zM349.95 31.85a1.45 1.45 0 1 0 2.9 0a1.45 1.45 0 1 0 -2.9 0zM351.6 31.04a1.45 1.45 0 1 0 2.9 0a1.45 1.45 0 1 0 -2.9 0zM353.26 30.22a1.45 1.45 0 1 0 2.9 0a1.45 1.45 0 1 0 -2.9 0zM354.91 29.4a1.45 1.45 0 1 0 2.9 0a1.45 1.45 0 1 0 -2.9 0zM356.56 28.27a1.45 1.45 0 1 0 2.9 0a1.45 1.45 0 1 0 -2.9 0zM358.22 27.03a1.45 1.45 0 1 0 2.9 0a1.45 1.45 0 1 0 -2.9 0zM359.87 25.79a1.45 1.45 0 1 0 2.9 0a1.45 1.45 0 1 0 -2.9 0zM361.52 24.94a1.45 1.45 0 1 0 2.9 0a1.45 1.45 0 1 0 -2.9 0zM363.18 24.33a1.45 1.45 0 1 0 2.9 0a1.45 1.45 0 1 0 -2.9 0zM364.83 23.73a1.45 1.45 0 1 0 2.9 0a1.45 1.45 0 1 0 -2.9 0zM366.49 23.12a1.45 1.45 0 1 0 2.9 0a1.45 1.45 0 1 0 -2.9 0zM368.14 22.52a1.45 1.45 0 1 0 2.9 0a1.45 1.45 0 1 0 -2.9 0zM369.79 21.95a1.45 1.45 0 1 0 2.9 0a1.45 1.45 0 1 0 -2.9 0zM371.45 21.47a1.45 1.45 0 1 0 2.9 0a1.45 1.45 0 1 0 -2.9 0zM373.1 20.99a1.45 1.45 0 1 0 2.9 0a1.45 1.45 0 1 0 -2.9 0zM374.75 20.52a1.45 1.45 0 1 0 2.9 0a1.45 1.45 0 1 0 -2.9 0zM376.41 20.04a1.45 1.45 0 1 0 2.9 0a1.45 1.45 0 1 0 -2.9 0zM378.06 19.56a1.45 1.45 0 1 0 2.9 0a1.45 1.45 0 1 0 -2.9 0zM379.72 19.23a1.45 1.45 0 1 0 2.9 0a1.45 1.45 0 1 0 -2.9 0zM381.37 18.9a1.45 1.45 0 1 0 2.9 0a1.45 1.45 0 1 0 -2.9 0zM383.02 18.57a1.45 1.45 0 1 0 2.9 0a1.45 1.45 0 1 0 -2.9 0zM384.68 18.24a1.45 1.45 0 1 0 2.9 0a1.45 1.45 0 1 0 -2.9 0zM386.33 17.91a1.45 1.45 0 1 0 2.9 0a1.45 1.45 0 1 0 -2.9 0zM387.98 17.58a1.45 1.45 0 1 0 2.9 0a1.45 1.45 0 1 0 -2.9 0zM389.64 17.44a1.45 1.45 0 1 0 2.9 0a1.45 1.45 0 1 0 -2.9 0zM391.29 17.35a1.45 1.45 0 1 0 2.9 0a1.45 1.45 0 1 0 -2.9 0zM392.94 17.25a1.45 1.45 0 1 0 2.9 0a1.45 1.45 0 1 0 -2.9 0zM394.6 17.16a1.45 1.45 0 1 0 2.9 0a1.45 1.45 0 1 0 -2.9 0zM396.25 17.07a1.45 1.45 0 1 0 2.9 0a1.45 1.45 0 1 0 -2.9 0zM397.91 16.98a1.45 1.45 0 1 0 2.9 0a1.45 1.45 0 1 0 -2.9 0zM399.56 16.89a1.45 1.45 0 1 0 2.9 0a1.45 1.45 0 1 0 -2.9 0zM401.21 16.8a1.45 1.45 0 1 0 2.9 0a1.45 1.45 0 1 0 -2.9 0zM402.87 16.71a1.45 1.45 0 1 0 2.9 0a1.45 1.45 0 1 0 -2.9 0zM404.52 16.64a1.45 1.45 0 1 0 2.9 0a1.45 1.45 0 1 0 -2.9 0zM406.17 16.61a1.45 1.45 0 1 0 2.9 0a1.45 1.45 0 1 0 -2.9 0zM407.83 16.58a1.45 1.45 0 1 0 2.9 0a1.45 1.45 0 1 0 -2.9 0zM409.48 16.55a1.45 1.45 0 1 0 2.9 0a1.45 1.45 0 1 0 -2.9 0zM411.14 16.52a1.45 1.45 0 1 0 2.9 0a1.45 1.45 0 1 0 -2.9 0zM412.79 16.49a1.45 1.45 0 1 0 2.9 0a1.45 1.45 0 1 0 -2.9 0zM414.44 16.46a1.45 1.45 0 1 0 2.9 0a1.45 1.45 0 1 0 -2.9 0zM416.1 16.43a1.45 1.45 0 1 0 2.9 0a1.45 1.45 0 1 0 -2.9 0zM417.75 16.39a1.45 1.45 0 1 0 2.9 0a1.45 1.45 0 1 0 -2.9 0zM419.4 16.36a1.45 1.45 0 1 0 2.9 0a1.45 1.45 0 1 0 -2.9 0zM421.06 16.33a1.45 1.45 0 1 0 2.9 0a1.45 1.45 0 1 0 -2.9 0zM422.71 16.3a1.45 1.45 0 1 0 2.9 0a1.45 1.45 0 1 0 -2.9 0zM424.36 16.27a1.45 1.45 0 1 0 2.9 0a1.45 1.45 0 1 0 -2.9 0zM426.02 16.24a1.45 1.45 0 1 0 2.9 0a1.45 1.45 0 1 0 -2.9 0zM427.67 16.21a1.45 1.45 0 1 0 2.9 0a1.45 1.45 0 1 0 -2.9 0zM429.33 16.18a1.45 1.45 0 1 0 2.9 0a1.45 1.45 0 1 0 -2.9 0zM430.98 16.15a1.45 1.45 0 1 0 2.9 0a1.45 1.45 0 1 0 -2.9 0zM432.63 16.12a1.45 1.45 0 1 0 2.9 0a1.45 1.45 0 1 0 -2.9 0zM434.29 16.1a1.45 1.45 0 1 0 2.9 0a1.45 1.45 0 1 0 -2.9 0zM435.94 16.08a1.45 1.45 0 1 0 2.9 0a1.45 1.45 0 1 0 -2.9 0zM437.59 16.05a1.45 1.45 0 1 0 2.9 0a1.45 1.45 0 1 0 -2.9 0zM439.25 16.03a1.45 1.45 0 1 0 2.9 0a1.45 1.45 0 1 0 -2.9 0zM440.9 16.01a1.45 1.45 0 1 0 2.9 0a1.45 1.45 0 1 0 -2.9 0zM442.56 15.98a1.45 1.45 0 1 0 2.9 0a1.45 1.45 0 1 0 -2.9 0zM444.21 15.96a1.45 1.45 0 1 0 2.9 0a1.45 1.45 0 1 0 -2.9 0zM445.86 15.93a1.45 1.45 0 1 0 2.9 0a1.45 1.45 0 1 0 -2.9 0zM447.52 15.91a1.45 1.45 0 1 0 2.9 0a1.45 1.45 0 1 0 -2.9 0zM449.17 15.89a1.45 1.45 0 1 0 2.9 0a1.45 1.45 0 1 0 -2.9 0zM450.82 15.86a1.45 1.45 0 1 0 2.9 0a1.45 1.45 0 1 0 -2.9 0zM452.48 15.84a1.45 1.45 0 1 0 2.9 0a1.45 1.45 0 1 0 -2.9 0zM454.13 15.82a1.45 1.45 0 1 0 2.9 0a1.45 1.45 0 1 0 -2.9 0zM455.79 15.79a1.45 1.45 0 1 0 2.9 0a1.45 1.45 0 1 0 -2.9 0zM457.44 15.77a1.45 1.45 0 1 0 2.9 0a1.45 1.45 0 1 0 -2.9 0zM459.09 15.75a1.45 1.45 0 1 0 2.9 0a1.45 1.45 0 1 0 -2.9 0zM460.75 15.72a1.45 1.45 0 1 0 2.9 0a1.45 1.45 0 1 0 -2.9 0zM462.4 15.7a1.45 1.45 0 1 0 2.9 0a1.45 1.45 0 1 0 -2.9 0zM464.05 15.68a1.45 1.45 0 1 0 2.9 0a1.45 1.45 0 1 0 -2.9 0zM465.71 15.65a1.45 1.45 0 1 0 2.9 0a1.45 1.45 0 1 0 -2.9 0zM467.36 15.63a1.45 1.45 0 1 0 2.9 0a1.45 1.45 0 1 0 -2.9 0zM469.01 15.62a1.45 1.45 0 1 0 2.9 0a1.45 1.45 0 1 0 -2.9 0zM470.67 15.6a1.45 1.45 0 1 0 2.9 0a1.45 1.45 0 1 0 -2.9 0zM472.32 15.59a1.45 1.45 0 1 0 2.9 0a1.45 1.45 0 1 0 -2.9 0zM473.98 15.57a1.45 1.45 0 1 0 2.9 0a1.45 1.45 0 1 0 -2.9 0zM475.63 15.56a1.45 1.45 0 1 0 2.9 0a1.45 1.45 0 1 0 -2.9 0zM477.28 15.54a1.45 1.45 0 1 0 2.9 0a1.45 1.45 0 1 0 -2.9 0zM478.94 15.52a1.45 1.45 0 1 0 2.9 0a1.45 1.45 0 1 0 -2.9 0zM480.59 15.51a1.45 1.45 0 1 0 2.9 0a1.45 1.45 0 1 0 -2.9 0zM482.24 15.49a1.45 1.45 0 1 0 2.9 0a1.45 1.45 0 1 0 -2.9 0zM483.9 15.48a1.45 1.45 0 1 0 2.9 0a1.45 1.45 0 1 0 -2.9 0zM485.55 15.46a1.45 1.45 0 1 0 2.9 0a1.45 1.45 0 1 0 -2.9 0zM487.21 15.45a1.45 1.45 0 1 0 2.9 0a1.45 1.45 0 1 0 -2.9 0zM488.86 15.43a1.45 1.45 0 1 0 2.9 0a1.45 1.45 0 1 0 -2.9 0zM490.51 15.41a1.45 1.45 0 1 0 2.9 0a1.45 1.45 0 1 0 -2.9 0zM492.17 15.4a1.45 1.45 0 1 0 2.9 0a1.45 1.45 0 1 0 -2.9 0zM493.82 15.38a1.45 1.45 0 1 0 2.9 0a1.45 1.45 0 1 0 -2.9 0zM495.47 15.37a1.45 1.45 0 1 0 2.9 0a1.45 1.45 0 1 0 -2.9 0zM497.13 15.35a1.45 1.45 0 1 0 2.9 0a1.45 1.45 0 1 0 -2.9 0zM498.78 15.34a1.45 1.45 0 1 0 2.9 0a1.45 1.45 0 1 0 -2.9 0zM500.44 15.32a1.45 1.45 0 1 0 2.9 0a1.45 1.45 0 1 0 -2.9 0zM502.09 15.31a1.45 1.45 0 1 0 2.9 0a1.45 1.45 0 1 0 -2.9 0zM503.74 15.3a1.45 1.45 0 1 0 2.9 0a1.45 1.45 0 1 0 -2.9 0zM505.4 15.3a1.45 1.45 0 1 0 2.9 0a1.45 1.45 0 1 0 -2.9 0zM507.05 15.3a1.45 1.45 0 1 0 2.9 0a1.45 1.45 0 1 0 -2.9 0zM508.7 15.3a1.45 1.45 0 1 0 2.9 0a1.45 1.45 0 1 0 -2.9 0zM510.36 15.3a1.45 1.45 0 1 0 2.9 0a1.45 1.45 0 1 0 -2.9 0zM512.01 15.3a1.45 1.45 0 1 0 2.9 0a1.45 1.45 0 1 0 -2.9 0zM513.66 15.3a1.45 1.45 0 1 0 2.9 0a1.45 1.45 0 1 0 -2.9 0zM515.32 15.3a1.45 1.45 0 1 0 2.9 0a1.45 1.45 0 1 0 -2.9 0zM516.97 15.3a1.45 1.45 0 1 0 2.9 0a1.45 1.45 0 1 0 -2.9 0zM518.63 15.3a1.45 1.45 0 1 0 2.9 0a1.45 1.45 0 1 0 -2.9 0zM520.28 15.3a1.45 1.45 0 1 0 2.9 0a1.45 1.45 0 1 0 -2.9 0zM521.93 15.3a1.45 1.45 0 1 0 2.9 0a1.45 1.45 0 1 0 -2.9 0zM523.59 15.3a1.45 1.45 0 1 0 2.9 0a1.45 1.45 0 1 0 -2.9 0zM525.17 15.3a1.45 1.45 0 1 0 2.9 0a1.45 1.45 0 1 0 -2.9 0z" stroke="#ff0000" stroke-width="1.0" fill="none"/>
<path d="M324.94 178.38L326.37 171.85L327.8 158.81L329.23 145.76L330.66 126.19L332.08 126.19L333.51 113.15L334.94 106.62L336.37 93.58L337.8 93.58L339.23 93.58L340.66 87.05L342.09 80.53L343.52 67.48L344.95 60.96L346.37 60.96L347.8 54.44L349.23 54.44L350.66 54.44L352.09 47.92L353.52 47.92L354.95 47.92L356.38 47.92L357.81 47.92L359.24 47.92L360.66 41.39L362.09 34.87L363.52 34.87L364.95 34.87L366.38 34.87L367.81 34.87L369.24 34.87L370.67 34.87L372.1 34.87L373.53 34.87L374.95 34.87L376.38 34.87L377.81 34.87L379.24 28.35L380.67 28.35L382.1 21.82L383.53 21.82L384.8 15.3" stroke="#00ff00" stroke-width="0.9" fill="none" stroke-linejoin="round"/>
<path d="M323.24 177.02l3.4 0l-1.7 3.23zM324.67 170.49l3.4 0l-1.7 3.23zM326.1 157.45l3.4 0l-1.7 3.23zM327.53 144.4l3.4 0l-1.7 3.23zM328.96 124.83l3.4 0l-1.7 3.23zM330.38 124.83l3.4 0l-1.7 3.23zM331.81 111.79l3.4 0l-1.7 3.23zM333.24 105.26l3.4 0l-1.7 3.23zM334.67 92.22l3.4 0l-1.7 3.23zM336.1 92.22l3.4 0l-1.7 3.23zM337.53 92.22l3.4 0l-1.7 3.23zM338.96 85.69l3.4 0l-1.7 3.23zM340.39 79.17l3.4 0l-1.7 3.23zM341.82 66.12l3.4 0l-1.7 3.23zM343.25 59.6l3.4 0l-1.7 3.23zM344.67 59.6l3.4 0l-1.7 3.23zM346.1 53.08l3.4 0l-1.7 3.23zM347.53 53.08l3.4 0l-1.7 3.23zM348.96 53.08l3.4 0l-1.7 3.23zM350.39 46.56l3.4 0l-1.7 3.23zM351.82 46.56l3.4 0l-1.7 3.23zM353.25 46.56l3.4 0l-1.7 3.23zM354.68 46.56l3.4 0l-1.7 3.23zM356.11 46.56l3.4 0l-1.7 3.23zM357.54 46.56l3.4 0l-1.7 3.23zM358.96 40.03l3.4 0l-1.7 3.23zM360.39 33.51l3.4 0l-1.7 3.23zM361.82 33.51l3.4 0l-1.7 3.23zM363.25 33.51l3.4 0l-1.7 3.23zM364.68 33.51l3.4 0l-1.7 3.23zM366.11 33.51l3.4 0l-1.7 3.23zM367.54 33.51l3.4 0l-1.7 3.23zM368.97 33.51l3.4 0l-1.7 3.23zM370.4 33.51l3.4 0l-1.7 3.23zM371.83 33.51l3.4 0l-1.7 3.23zM373.25 33.51l3.4 0l-1.7 3.23zM374.68 33.51l3.4 0l-1.7 3.23zM376.11 33.51l3.4 0l-1.7 3.23zM377.54 26.99l3.4 0l-1.7 3.23zM378.97 26.99l3.4 0l-1.7 3.23zM380.4 20.46l3.4 0l-1.7 3.23zM381.83 20.46l3.4 0l-1.7 3.23zM383.1 13.94l3.4 0l-1.7 3.23z" stroke="#00ff00" stroke-width="0.7" fill="#00ff00"/>
<path d="M324.94 178.12L326.59 150.74L328.25 128.37L329.9 110.5L331.55 96.35L333.21 84.44L334.86 70.62L336.52 61.6L338.17 55.5L339.82 50.4L341.48 44.47L343.13 40.57L344.78 36.78L346.44 35.34L348.09 33.91L349.74 32.67L351.4 31.85L353.05 31.04L354.71 30.22L356.36 29.4L358.01 28.27L359.67 27.03L361.32 25.79L362.97 24.94L364.63 24.33L366.28 23.73L367.94 23.12L369.59 22.52L371.24 21.95L372.9 21.47L374.55 20.99L376.2 20.52L377.86 20.04L379.51 19.56L381.17 19.23L382.82 18.9L384.47 18.57L386.13 18.24L387.78 17.91L389.43 17.58L391.09 17.44L392.74 17.35L394.39 17.25L396.05 17.16L397.7 17.07L399.36 16.98L401.01 16.89L402.66 16.8L404.32 16.71L405.97 16.64L407.62 16.61L409.28 16.58L410.93 16.55L412.59 16.52L414.24 16.49L415.89 16.46L417.55 16.43L419.2 16.39L420.85 16.36L422.51 16.33L424.16 16.3L425.81 16.27L427.47 16.24L429.12 16.21L430.78 16.18L432.43 16.15L434.08 16.12L435.74 16.1L437.39 16.08L439.04 16.05L440.7 16.03L442.35 16.01L444.01 15.98L445.66 15.96L447.31 15.93L448.97 15.91L450.62 15.89L452.27 15.86L453.93 15.84L455.58 15.82L457.24 15.79L458.89 15.77L460.54 15.75L462.2 15.72L463.85 15.7L465.5 15.68L467.16 15.65L468.81 15.63L470.46 15.62L472.12 15.6L473.77 15.59L475.43 15.57L477.08 15.56L478.73 15.54L480.39 15.52L482.04 15.51L483.69 15.49L485.35 15.48L487 15.46L488.66 15.45L490.31 15.43L491.96 15.41L493.62 15.4L495.27 15.38L496.92 15.37L498.58 15.35L500.23 15.34L501.89 15.32L503.54 15.31L505.19 15.3L506.85 15.3L508.5 15.3L510.15 15.3L511.81 15.3L513.46 15.3L515.11 15.3L516.77 15.3L518.42 15.3L520.08 15.3L521.73 15.3L523.38 15.3L525.04 15.3L526.69 15.3L528.34 15.3L530 15.3L531.65 15.3L533.31 15.3L534.17 15.3" stroke="#000000" stroke-width="0.8" fill="none" stroke-linejoin="round"/>
<path d="M324.94 176.43l1.25 1.69l-1.25 1.69l-1.25 -1.69zM326.59 149.05l1.25 1.69l-1.25 1.69l-1.25 -1.69zM328.25 126.68l1.25 1.69l-1.25 1.69l-1.25 -1.69zM329.9 108.81l1.25 1.69l-1.25 1.69l-1.25 -1.69zM331.55 94.66l1.25 1.69l-1.25 1.69l-1.25 -1.69zM333.21 82.75l1.25 1.69l-1.25 1.69l-1.25 -1.69zM334.86 68.94l1.25 1.69l-1.25 1.69l-1.25 -1.69zM336.52 59.91l1.25 1.69l-1.25 1.69l-1.25 -1.69zM338.17 53.81l1.25 1.69l-1.25 1.69l-1.25 -1.69zM339.82 48.71l1.25 1.69l-1.25 1.69l-1.25 -1.69zM341.48 42.78l1.25 1.69l-1.25 1.69l-1.25 -1.69zM343.13 38.88l1.25 1.69l-1.25 1.69l-1.25 -1.69zM344.78 35.09l1.25 1.69l-1.25 1.69l-1.25 -1.69zM346.44 33.65l1.25 1.69l-1.25 1.69l-1.25 -1.69zM348.09 32.22l1.25 1.69l-1.25 1.69l-1.25 -1.69zM349.74 30.98l1.25 1.69l-1.25 1.69l-1.25 -1.69zM351.4 30.17l1.25 1.69l-1.25 1.69l-1.25 -1.69zM353.05 29.35l1.25 1.69l-1.25 1.69l-1.25 -1.69zM354.71 28.53l1.25 1.69l-1.25 1.69l-1.25 -1.69zM356.36 27.72l1.25 1.69l-1.25 1.69l-1.25 -1.69zM358.01 26.58l1.25 1.69l-1.25 1.69l-1.25 -1.69zM359.67 25.34l1.25 1.69l-1.25 1.69l-1.25 -1.69zM361.32 24.1l1.25 1.69l-1.25 1.69l-1.25 -1.69zM362.97 23.25l1.25 1.69l-1.25 1.69l-1.25 -1.69zM364.63 22.65l1.25 1.69l-1.25 1.69l-1.25 -1.69zM366.28 22.04l1.25 1.69l-1.25 1.69l-1.25 -1.69zM367.94 21.44l1.25 1.69l-1.25 1.69l-1.25 -1.69zM369.59 20.83l1.25 1.69l-1.25 1.69l-1.25 -1.69zM371.24 20.26l1.25 1.69l-1.25 1.69l-1.25 -1.69zM372.9 19.78l1.25 1.69l-1.25 1.69l-1.25 -1.69zM374.55 19.31l1.25 1.69l-1.25 1.69l-1.25 -1.69zM376.2 18.83l1.25 1.69l-1.25 1.69l-1.25 -1.69zM377.86 18.35l1.25 1.69l-1.25 1.69l-1.25 -1.69zM379.51 17.87l1.25 1.69l-1.25 1.69l-1.25 -1.69zM381.17 17.54l1.25 1.69l-1.25 1.69l-1.25 -1.69zM382.82 17.21l1.25 1.69l-1.25 1.69l-1.25 -1.69zM384.47 16.88l1.25 1.69l-1.25 1.69l-1.25 -1.69zM386.13 16.55l1.25 1.69l-1.25 1.69l-1.25 -1.69zM387.78 16.22l1.25 1.69l-1.25 1.69l-1.25 -1.69zM389.43 15.9l1.25 1.69l-1.25 1.69l-1.25 -1.69zM391.09 15.75l1.25 1.69l-1.25 1.69l-1.25 -1.69zM392.74 15.66l1.25 1.69l-1.25 1.69l-1.25 -1.69zM394.39 15.57l1.25 1.69l-1.25 1.69l-1.25 -1.69zM396.05 15.48l1.25 1.69l-1.25 1.69l-1.25 -1.69zM397.7 15.39l1.25 1.69l-1.25 1.69l-1.25 -1.69zM399.36 15.29l1.25 1.69l-1.25 1.69l-1.25 -1.69zM401.01 15.2l1.25 1.69l-1.25 1.69l-1.25 -1.69zM402.66 15.11l1.25 1.69l-1.25 1.69l-1.25 -1.69zM404.32 15.02l1.25 1.69l-1.25 1.69l-1.25 -1.69zM405.97 14.96l1.25 1.69l-1.25 1.69l-1.25 -1.69zM407.62 14.93l1.25 1.69l-1.25 1.69l-1.25 -1.69zM409.28 14.89l1.25 1.69l-1.25 1.69l-1.25 -1.69zM410.93 14.86l1.25 1.69l-1.25 1.69l-1.25 -1.69zM412.59 14.83l1.25 1.69l-1.25 1.69l-1.25 -1.69zM414.24 14.8l1.25 1.69l-1.25 1.69l-1.25 -1.69zM415.89 14.77l1.25 1.69l-1.25 1.69l-1.25 -1.69zM417.55 14.74l1.25 1.69l-1.25 1.69l-1.25 -1.69zM419.2 14.71l1.25 1.69l-1.25 1.69l-1.25 -1.69zM420.85 14.68l1.25 1.69l-1.25 1.69l-1.25 -1.69zM422.51 14.64l1.25 1.69l-1.25 1.69l-1.25 -1.69zM424.16 14.61l1.25 1.69l-1.25 1.69l-1.25 -1.69zM425.81 14.58l1.25 1.69l-1.25 1.69l-1.25 -1.69zM427.47 14.55l1.25 1.69l-1.25 1.69l-1.25 -1.69zM429.12 14.52l1.25 1.69l-1.25 1.69l-1.25 -1.69zM430.78 14.49l1.25 1.69l-1.25 1.69l-1.25 -1.69zM432.43 14.46l1.25 1.69l-1.25 1.69l-1.25 -1.69zM434.08 14.43l1.25 1.69l-1.25 1.69l-1.25 -1.69zM435.74 14.41l1.25 1.69l-1.25 1.69l-1.25 -1.69zM437.39 14.39l1.25 1.69l-1.25 1.69l-1.25 -1.69zM439.04 14.36l1.25 1.69l-1.25 1.69l-1.25 -1.69zM440.7 14.34l1.25 1.69l-1.25 1.69l-1.25 -1.69zM442.35 14.32l1.25 1.69l-1.25 1.69l-1.25 -1.69zM444.01 14.29l1.25 1.69l-1.25 1.69l-1.25 -1.69zM445.66 14.27l1.25 1.69l-1.25 1.69l-1.25 -1.69zM447.31 14.25l1.25 1.69l-1.25 1.69l-1.25 -1.69zM448.97 14.22l1.25 1.69l-1.25 1.69l-1.25 -1.69zM450.62 14.2l1.25 1.69l-1.25 1.69l-1.25 -1.69zM452.27 14.18l1.25 1.69l-1.25 1.69l-1.25 -1.69zM453.93 14.15l1.25 1.69l-1.25 1.69l-1.25 -1.69zM455.58 14.13l1.25 1.69l-1.25 1.69l-1.25 -1.69zM457.24 14.11l1.25 1.69l-1.25 1.69l-1.25 -1.69zM458.89 14.08l1.25 1.69l-1.25 1.69l-1.25 -1.69zM460.54 14.06l1.25 1.69l-1.25 1.69l-1.25 -1.69zM462.2 14.04l1.25 1.69l-1.25 1.69l-1.25 -1.69zM463.85 14.01l1.25 1.69l-1.25 1.69l-1.25 -1.69zM465.5 13.99l1.25 1.69l-1.25 1.69l-1.25 -1.69zM467.16 13.97l1.25 1.69l-1.25 1.69l-1.25 -1.69zM468.81 13.95l1.25 1.69l-1.25 1.69l-1.25 -1.69zM470.46 13.93l1.25 1.69l-1.25 1.69l-1.25 -1.69zM472.12 13.91l1.25 1.69l-1.25 1.69l-1.25 -1.69zM473.77 13.9l1.25 1.69l-1.25 1.69l-1.25 -1.69zM475.43 13.88l1.25 1.69l-1.25 1.69l-1.25 -1.69zM477.08 13.87l1.25 1.69l-1.25 1.69l-1.25 -1.69zM478.73 13.85l1.25 1.69l-1.25 1.69l-1.25 -1.69zM480.39 13.84l1.25 1.69l-1.25 1.69l-1.25 -1.69zM482.04 13.82l1.25 1.69l-1.25 1.69l-1.25 -1.69zM483.69 13.81l1.25 1.69l-1.25 1.69l-1.25 -1.69zM485.35 13.79l1.25 1.69l-1.25 1.69l-1.25 -1.69zM487 13.77l1.25 1.69l-1.25 1.69l-1.25 -1.69zM488.66 13.76l1.25 1.69l-1.25 1.69l-1.25 -1.69zM490.31 13.74l1.25 1.69l-1.25 1.69l-1.25 -1.69zM491.96 13.73l1.25 1.69l-1.25 1.69l-1.25 -1.69zM493.62 13.71l1.25 1.69l-1.25 1.69l-1.25 -1.69zM495.27 13.7l1.25 1.69l-1.25 1.69l-1.25 -1.69zM496.92 13.68l1.25 1.69l-1.25 1.69l-1.25 -1.69zM498.58 13.67l1.25 1.69l-1.25 1.69l-1.25 -1.69zM500.23 13.65l1.25 1.69l-1.25 1.69l-1.25 -1.69zM501.89 13.63l1.25 1.69l-1.25 1.69l-1.25 -1.69zM503.54 13.62l1.25 1.69l-1.25 1.69l-1.25 -1.69zM505.19 13.61l1.25 1.69l-1.25 1.69l-1.25 -1.69zM506.85 13.61l1.25 1.69l-1.25 1.69l-1.25 -1.69zM508.5 13.61l1.25 1.69l-1.25 1.69l-1.25 -1.69zM510.15 13.61l1.25 1.69l-1.25 1.69l-1.25 -1.69zM511.81 13.61l1.25 1.69l-1.25 1.69l-1.25 -1.69zM513.46 13.61l1.25 1.69l-1.25 1.69l-1.25 -1.69zM515.11 13.61l1.25 1.69l-1.25 1.69l-1.25 -1.69zM516.77 13.61l1.25 1.69l-1.25 1.69l-1.25 -1.69zM518.42 13.61l1.25 1.69l-1.25 1.69l-1.25 -1.69zM520.08 13.61l1.25 1.69l-1.25 1.69l-1.25 -1.69zM521.73 13.61l1.25 1.69l-1.25 1.69l-1.25 -1.69zM523.38 13.61l1.25 1.69l-1.25 1.69l-1.25 -1.69zM525.04 13.61l1.25 1.69l-1.25 1.69l-1.25 -1.69zM526.69 13.61l1.25 1.69l-1.25 1.69l-1.25 -1.69zM528.34 13.61l1.25 1.69l-1.25 1.69l-1.25 -1.69zM530 13.61l1.25 1.69l-1.25 1.69l-1.25 -1.69zM531.65 13.61l1.25 1.69l-1.25 1.69l-1.25 -1.69zM533.31 13.61l1.25 1.69l-1.25 1.69l-1.25 -1.69zM534.17 13.61l1.25 1.69l-1.25 1.69l-1.25 -1.69z" stroke="#000000" stroke-width="0.8" fill="none"/>
<rect x="324.4" y="15.3" width="215.7" height="169.6" fill="none" stroke="#222" stroke-width="1.2"/>
<path d="M360.35 184.9v-2.2M360.35 15.3v2.2M396.3 184.9v-2.2M396.3 15.3v2.2M432.25 184.9v-2.2M432.25 15.3v2.2M468.2 184.9v-2.2M468.2 15.3v2.2M504.15 184.9v-2.2M504.15 15.3v2.2M324.4 167.94h2.2M540.1 167.94h-2.2M324.4 150.98h2.2M540.1 150.98h-2.2M324.4 134.02h2.2M540.1 134.02h-2.2M324.4 117.06h2.2M540.1 117.06h-2.2M324.4 100.1h2.2M540.1 100.1h-2.2M324.4 83.14h2.2M540.1 83.14h-2.2M324.4 66.18h2.2M540.1 66.18h-2.2M324.4 49.22h2.2M540.1 49.22h-2.2M324.4 32.26h2.2M540.1 32.26h-2.2" stroke="#222" stroke-width="0.8" fill="none"/>
<text x="324.4" y="192" class="tk" text-anchor="middle">0</text>
<text x="360.35" y="192" class="tk" text-anchor="middle">0.2</text>
<text x="396.3" y="192" class="tk" text-anchor="middle">0.4</text>
<text x="432.25" y="192" class="tk" text-anchor="middle">0.6</text>
<text x="468.2" y="192" class="tk" text-anchor="middle">0.8</text>
<text x="504.15" y="192" class="tk" text-anchor="middle">1</text>
<text x="540.1" y="192" class="tk" text-anchor="middle">1.2</text>
<text x="322.6" y="187.4" class="tk" text-anchor="end">0</text>
<text x="322.6" y="170.44" class="tk" text-anchor="end">0.1</text>
<text x="322.6" y="153.48" class="tk" text-anchor="end">0.2</text>
<text x="322.6" y="136.52" class="tk" text-anchor="end">0.3</text>
<text x="322.6" y="119.56" class="tk" text-anchor="end">0.4</text>
<text x="322.6" y="102.6" class="tk" text-anchor="end">0.5</text>
<text x="322.6" y="85.64" class="tk" text-anchor="end">0.6</text>
<text x="322.6" y="68.68" class="tk" text-anchor="end">0.7</text>
<text x="322.6" y="51.72" class="tk" text-anchor="end">0.8</text>
<text x="322.6" y="34.76" class="tk" text-anchor="end">0.9</text>
<text x="322.6" y="17.8" class="tk" text-anchor="end">1</text>
<text x="431.75" y="10.1" class="ti" text-anchor="middle">CDF</text>
<text transform="translate(310.5 101.1) rotate(-90)" class="yl" text-anchor="middle">Ratio</text>
<text x="432.25" y="199.4" class="xs" text-anchor="middle">IM</text>
<rect x="482.8" y="150.2" width="53.8" height="32.8" fill="#fff" stroke="#222" stroke-width="1"/>
<path d="M485.8 155.2h14" stroke="#0000ff" stroke-width="0.7"/>
<path d="M491.72 153.6l0 3.2l3.04 -1.6z" stroke="#0000ff" stroke-width="0.6" fill="#0000ff"/>
<text x="501" y="157.5" class="lg">SIFT Global</text>
<path d="M485.8 162.8h14" stroke="#ff0000" stroke-width="0.7"/>
<path d="M491.55 162.8a1.45 1.45 0 1 0 2.9 0a1.45 1.45 0 1 0 -2.9 0z" stroke="#ff0000" stroke-width="0.6" fill="none"/>
<text x="501" y="165.1" class="lg">SIFT Local</text>
<path d="M485.8 170.4h14" stroke="#00ff00" stroke-width="0.7"/>
<path d="M491.3 169.04l3.4 0l-1.7 3.23z" stroke="#00ff00" stroke-width="0.6" fill="#00ff00"/>
<text x="501" y="172.7" class="lg">OCT Global</text>
<path d="M485.8 178h14" stroke="#000000" stroke-width="0.7"/>
<path d="M493 176.31l1.25 1.69l-1.25 1.69l-1.25 -1.69z" stroke="#000000" stroke-width="0.6" fill="none"/>
<text x="501" y="180.3" class="lg">OCT Local</text>
<text x="425.7" y="223.7" class="sb" text-anchor="middle">(<tspan font-weight="bold">b</tspan>)</text>
</g>
<g>
<path d="M53.91 250.4V417.3M84.18 250.4V417.3M114.44 250.4V417.3M144.71 250.4V417.3M174.97 250.4V417.3M205.24 250.4V417.3M23.65 400.61H235.5M23.65 383.92H235.5M23.65 367.23H235.5M23.65 350.54H235.5M23.65 333.85H235.5M23.65 317.16H235.5M23.65 300.47H235.5M23.65 283.78H235.5M23.65 267.09H235.5" stroke="#bcbcbc" stroke-width="0.7" stroke-dasharray="0.9 1.3" fill="none"/>
<path d="M84.03 411.54L85.07 400.03L86.12 400.03L87.16 400.03L88.2 400.03L89.25 400.03L90.29 400.03L91.34 400.03L92.38 400.03L93.42 394.28L94.47 394.28L95.51 394.28L96.56 394.28L97.6 394.28L98.64 394.28L99.69 377.01L100.73 377.01L101.78 377.01L102.82 365.5L103.87 365.5L104.91 365.5L105.95 365.5L107 365.5L108.04 365.5L109.09 365.5L110.13 353.99L111.17 353.99L112.22 353.99L113.26 353.99L114.31 348.24L115.35 348.24L116.39 348.24L117.44 342.48L118.48 342.48L119.53 342.48L120.57 342.48L121.62 336.73L122.66 336.73L123.7 325.22L124.75 325.22L125.79 313.71L126.84 313.71L127.88 302.2L128.92 290.69L129.97 290.69L131.01 284.93L132.06 284.93L133.1 284.93L134.14 284.93L135.19 279.18L136.23 279.18L137.28 279.18L138.32 279.18L139.37 279.18L140.41 279.18L141.45 279.18L142.5 279.18L143.54 273.42L144.59 267.67L145.63 267.67L146.67 267.67L147.72 267.67L148.76 267.67L149.81 267.67L150.85 267.67L151.89 267.67L152.94 267.67L153.98 267.67L155.03 267.67L156.07 267.67L157.12 267.67L158.16 267.67L159.2 267.67L160.25 267.67L161.29 261.91L162.34 261.91L163.38 261.91L164.42 261.91L165.47 261.91L166.51 261.91L167.56 256.16L168.6 256.16L169.64 256.16L170.69 256.16L171.73 256.16L172.78 256.16L173.82 256.16L174.87 256.16L175.91 256.16L176.95 250.4" stroke="#0000ff" stroke-width="0.8" fill="none" stroke-linejoin="round"/>
<path d="M82.75 409.94l0 3.2l3.04 -1.6zM83.79 398.43l0 3.2l3.04 -1.6zM84.84 398.43l0 3.2l3.04 -1.6zM85.88 398.43l0 3.2l3.04 -1.6zM86.92 398.43l0 3.2l3.04 -1.6zM87.97 398.43l0 3.2l3.04 -1.6zM89.01 398.43l0 3.2l3.04 -1.6zM90.06 398.43l0 3.2l3.04 -1.6zM91.1 398.43l0 3.2l3.04 -1.6zM92.14 392.68l0 3.2l3.04 -1.6zM93.19 392.68l0 3.2l3.04 -1.6zM94.23 392.68l0 3.2l3.04 -1.6zM95.28 392.68l0 3.2l3.04 -1.6zM96.32 392.68l0 3.2l3.04 -1.6zM97.36 392.68l0 3.2l3.04 -1.6zM98.41 375.41l0 3.2l3.04 -1.6zM99.45 375.41l0 3.2l3.04 -1.6zM100.5 375.41l0 3.2l3.04 -1.6zM101.54 363.9l0 3.2l3.04 -1.6zM102.59 363.9l0 3.2l3.04 -1.6zM103.63 363.9l0 3.2l3.04 -1.6zM104.67 363.9l0 3.2l3.04 -1.6zM105.72 363.9l0 3.2l3.04 -1.6zM106.76 363.9l0 3.2l3.04 -1.6zM107.81 363.9l0 3.2l3.04 -1.6zM108.85 352.39l0 3.2l3.04 -1.6zM109.89 352.39l0 3.2l3.04 -1.6zM110.94 352.39l0 3.2l3.04 -1.6zM111.98 352.39l0 3.2l3.04 -1.6zM113.03 346.64l0 3.2l3.04 -1.6zM114.07 346.64l0 3.2l3.04 -1.6zM115.11 346.64l0 3.2l3.04 -1.6zM116.16 340.88l0 3.2l3.04 -1.6zM117.2 340.88l0 3.2l3.04 -1.6zM118.25 340.88l0 3.2l3.04 -1.6zM119.29 340.88l0 3.2l3.04 -1.6zM120.34 335.13l0 3.2l3.04 -1.6zM121.38 335.13l0 3.2l3.04 -1.6zM122.42 323.62l0 3.2l3.04 -1.6zM123.47 323.62l0 3.2l3.04 -1.6zM124.51 312.11l0 3.2l3.04 -1.6zM125.56 312.11l0 3.2l3.04 -1.6zM126.6 300.6l0 3.2l3.04 -1.6zM127.64 289.09l0 3.2l3.04 -1.6zM128.69 289.09l0 3.2l3.04 -1.6zM129.73 283.33l0 3.2l3.04 -1.6zM130.78 283.33l0 3.2l3.04 -1.6zM131.82 283.33l0 3.2l3.04 -1.6zM132.86 283.33l0 3.2l3.04 -1.6zM133.91 277.58l0 3.2l3.04 -1.6zM134.95 277.58l0 3.2l3.04 -1.6zM136 277.58l0 3.2l3.04 -1.6zM137.04 277.58l0 3.2l3.04 -1.6zM138.09 277.58l0 3.2l3.04 -1.6zM139.13 277.58l0 3.2l3.04 -1.6zM140.17 277.58l0 3.2l3.04 -1.6zM141.22 277.58l0 3.2l3.04 -1.6zM142.26 271.82l0 3.2l3.04 -1.6zM143.31 266.07l0 3.2l3.04 -1.6zM144.35 266.07l0 3.2l3.04 -1.6zM145.39 266.07l0 3.2l3.04 -1.6zM146.44 266.07l0 3.2l3.04 -1.6zM147.48 266.07l0 3.2l3.04 -1.6zM148.53 266.07l0 3.2l3.04 -1.6zM149.57 266.07l0 3.2l3.04 -1.6zM150.61 266.07l0 3.2l3.04 -1.6zM151.66 266.07l0 3.2l3.04 -1.6zM152.7 266.07l0 3.2l3.04 -1.6zM153.75 266.07l0 3.2l3.04 -1.6zM154.79 266.07l0 3.2l3.04 -1.6zM155.84 266.07l0 3.2l3.04 -1.6zM156.88 266.07l0 3.2l3.04 -1.6zM157.92 266.07l0 3.2l3.04 -1.6zM158.97 266.07l0 3.2l3.04 -1.6zM160.01 260.31l0 3.2l3.04 -1.6zM161.06 260.31l0 3.2l3.04 -1.6zM162.1 260.31l0 3.2l3.04 -1.6zM163.14 260.31l0 3.2l3.04 -1.6zM164.19 260.31l0 3.2l3.04 -1.6zM165.23 260.31l0 3.2l3.04 -1.6zM166.28 254.56l0 3.2l3.04 -1.6zM167.32 254.56l0 3.2l3.04 -1.6zM168.36 254.56l0 3.2l3.04 -1.6zM169.41 254.56l0 3.2l3.04 -1.6zM170.45 254.56l0 3.2l3.04 -1.6zM171.5 254.56l0 3.2l3.04 -1.6zM172.54 254.56l0 3.2l3.04 -1.6zM173.59 254.56l0 3.2l3.04 -1.6zM174.63 254.56l0 3.2l3.04 -1.6zM175.67 248.8l0 3.2l3.04 -1.6z" stroke="#0000ff" stroke-width="0.7" fill="#0000ff"/>
<path d="M45.44 417.3L46.91 417.04L48.38 416.78L49.84 416.52L51.31 416.26L52.78 416L54.25 415.67L55.72 415.1L57.18 414.54L58.65 413.97L60.12 413.41L61.59 412.84L63.05 412.28L64.52 411.81L65.99 411.39L67.46 410.96L68.93 410.54L70.39 410.11L71.86 409.68L73.33 409.35L74.8 409.02L76.26 408.7L77.73 408.37L79.2 408.05L80.67 407.73L82.14 407.02L83.6 406.13L85.07 404.58L86.54 402.61L88.01 400.64L89.47 398.67L90.94 396.71L92.41 394.75L93.88 392.79L95.35 390.62L96.81 388.14L98.28 385.66L99.75 383.18L101.22 380.68L102.69 378.19L104.15 375.63L105.62 373.02L107.09 370.41L108.56 367.42L110.02 363.93L111.49 360.44L112.96 356.89L114.43 352.94L115.9 348.99L117.36 345.24L118.83 341.64L120.3 338.04L121.77 334.44L123.23 329.31L124.7 323.88L126.17 318.44L127.64 314.91L129.11 311.49L130.57 308.06L132.04 304.63L133.51 301.35L134.98 298.2L136.44 295.06L137.91 291.91L139.38 289.09L140.85 286.35L142.32 283.62L143.78 280.88L145.25 278.41L146.72 276.22L148.19 274.04L149.66 271.85L151.12 269.72L152.59 268.77L154.06 267.81L155.53 266.86L156.99 265.9L158.46 264.95L159.93 263.99L161.4 263.04L162.87 262.08L164.33 261.2L165.8 260.33L167.27 259.45L168.74 258.57L170.2 257.69L171.67 256.81L173.14 255.93L174.61 255.39L176.08 254.94L177.54 254.49L179.01 254.04L180.48 253.59L181.95 253.14L183.42 252.68L184.88 252.23L186.35 251.78L187.82 251.33L189.29 250.88L190.75 250.43" stroke="#ff0000" stroke-width="0.8" fill="none" stroke-linejoin="round"/>
<path d="M43.99 417.3a1.45 1.45 0 1 0 2.9 0a1.45 1.45 0 1 0 -2.9 0zM45.46 417.04a1.45 1.45 0 1 0 2.9 0a1.45 1.45 0 1 0 -2.9 0zM46.93 416.78a1.45 1.45 0 1 0 2.9 0a1.45 1.45 0 1 0 -2.9 0zM48.39 416.52a1.45 1.45 0 1 0 2.9 0a1.45 1.45 0 1 0 -2.9 0zM49.86 416.26a1.45 1.45 0 1 0 2.9 0a1.45 1.45 0 1 0 -2.9 0zM51.33 416a1.45 1.45 0 1 0 2.9 0a1.45 1.45 0 1 0 -2.9 0zM52.8 415.67a1.45 1.45 0 1 0 2.9 0a1.45 1.45 0 1 0 -2.9 0zM54.27 415.1a1.45 1.45 0 1 0 2.9 0a1.45 1.45 0 1 0 -2.9 0zM55.73 414.54a1.45 1.45 0 1 0 2.9 0a1.45 1.45 0 1 0 -2.9 0zM57.2 413.97a1.45 1.45 0 1 0 2.9 0a1.45 1.45 0 1 0 -2.9 0zM58.67 413.41a1.45 1.45 0 1 0 2.9 0a1.45 1.45 0 1 0 -2.9 0zM60.14 412.84a1.45 1.45 0 1 0 2.9 0a1.45 1.45 0 1 0 -2.9 0zM61.6 412.28a1.45 1.45 0 1 0 2.9 0a1.45 1.45 0 1 0 -2.9 0zM63.07 411.81a1.45 1.45 0 1 0 2.9 0a1.45 1.45 0 1 0 -2.9 0zM64.54 411.39a1.45 1.45 0 1 0 2.9 0a1.45 1.45 0 1 0 -2.9 0zM66.01 410.96a1.45 1.45 0 1 0 2.9 0a1.45 1.45 0 1 0 -2.9 0zM67.48 410.54a1.45 1.45 0 1 0 2.9 0a1.45 1.45 0 1 0 -2.9 0zM68.94 410.11a1.45 1.45 0 1 0 2.9 0a1.45 1.45 0 1 0 -2.9 0zM70.41 409.68a1.45 1.45 0 1 0 2.9 0a1.45 1.45 0 1 0 -2.9 0zM71.88 409.35a1.45 1.45 0 1 0 2.9 0a1.45 1.45 0 1 0 -2.9 0zM73.35 409.02a1.45 1.45 0 1 0 2.9 0a1.45 1.45 0 1 0 -2.9 0zM74.81 408.7a1.45 1.45 0 1 0 2.9 0a1.45 1.45 0 1 0 -2.9 0zM76.28 408.37a1.45 1.45 0 1 0 2.9 0a1.45 1.45 0 1 0 -2.9 0zM77.75 408.05a1.45 1.45 0 1 0 2.9 0a1.45 1.45 0 1 0 -2.9 0zM79.22 407.73a1.45 1.45 0 1 0 2.9 0a1.45 1.45 0 1 0 -2.9 0zM80.69 407.02a1.45 1.45 0 1 0 2.9 0a1.45 1.45 0 1 0 -2.9 0zM82.15 406.13a1.45 1.45 0 1 0 2.9 0a1.45 1.45 0 1 0 -2.9 0zM83.62 404.58a1.45 1.45 0 1 0 2.9 0a1.45 1.45 0 1 0 -2.9 0zM85.09 402.61a1.45 1.45 0 1 0 2.9 0a1.45 1.45 0 1 0 -2.9 0zM86.56 400.64a1.45 1.45 0 1 0 2.9 0a1.45 1.45 0 1 0 -2.9 0zM88.02 398.67a1.45 1.45 0 1 0 2.9 0a1.45 1.45 0 1 0 -2.9 0zM89.49 396.71a1.45 1.45 0 1 0 2.9 0a1.45 1.45 0 1 0 -2.9 0zM90.96 394.75a1.45 1.45 0 1 0 2.9 0a1.45 1.45 0 1 0 -2.9 0zM92.43 392.79a1.45 1.45 0 1 0 2.9 0a1.45 1.45 0 1 0 -2.9 0zM93.9 390.62a1.45 1.45 0 1 0 2.9 0a1.45 1.45 0 1 0 -2.9 0zM95.36 388.14a1.45 1.45 0 1 0 2.9 0a1.45 1.45 0 1 0 -2.9 0zM96.83 385.66a1.45 1.45 0 1 0 2.9 0a1.45 1.45 0 1 0 -2.9 0zM98.3 383.18a1.45 1.45 0 1 0 2.9 0a1.45 1.45 0 1 0 -2.9 0zM99.77 380.68a1.45 1.45 0 1 0 2.9 0a1.45 1.45 0 1 0 -2.9 0zM101.24 378.19a1.45 1.45 0 1 0 2.9 0a1.45 1.45 0 1 0 -2.9 0zM102.7 375.63a1.45 1.45 0 1 0 2.9 0a1.45 1.45 0 1 0 -2.9 0zM104.17 373.02a1.45 1.45 0 1 0 2.9 0a1.45 1.45 0 1 0 -2.9 0zM105.64 370.41a1.45 1.45 0 1 0 2.9 0a1.45 1.45 0 1 0 -2.9 0zM107.11 367.42a1.45 1.45 0 1 0 2.9 0a1.45 1.45 0 1 0 -2.9 0zM108.57 363.93a1.45 1.45 0 1 0 2.9 0a1.45 1.45 0 1 0 -2.9 0zM110.04 360.44a1.45 1.45 0 1 0 2.9 0a1.45 1.45 0 1 0 -2.9 0zM111.51 356.89a1.45 1.45 0 1 0 2.9 0a1.45 1.45 0 1 0 -2.9 0zM112.98 352.94a1.45 1.45 0 1 0 2.9 0a1.45 1.45 0 1 0 -2.9 0zM114.45 348.99a1.45 1.45 0 1 0 2.9 0a1.45 1.45 0 1 0 -2.9 0zM115.91 345.24a1.45 1.45 0 1 0 2.9 0a1.45 1.45 0 1 0 -2.9 0zM117.38 341.64a1.45 1.45 0 1 0 2.9 0a1.45 1.45 0 1 0 -2.9 0zM118.85 338.04a1.45 1.45 0 1 0 2.9 0a1.45 1.45 0 1 0 -2.9 0zM120.32 334.44a1.45 1.45 0 1 0 2.9 0a1.45 1.45 0 1 0 -2.9 0zM121.78 329.31a1.45 1.45 0 1 0 2.9 0a1.45 1.45 0 1 0 -2.9 0zM123.25 323.88a1.45 1.45 0 1 0 2.9 0a1.45 1.45 0 1 0 -2.9 0zM124.72 318.44a1.45 1.45 0 1 0 2.9 0a1.45 1.45 0 1 0 -2.9 0zM126.19 314.91a1.45 1.45 0 1 0 2.9 0a1.45 1.45 0 1 0 -2.9 0zM127.66 311.49a1.45 1.45 0 1 0 2.9 0a1.45 1.45 0 1 0 -2.9 0zM129.12 308.06a1.45 1.45 0 1 0 2.9 0a1.45 1.45 0 1 0 -2.9 0zM130.59 304.63a1.45 1.45 0 1 0 2.9 0a1.45 1.45 0 1 0 -2.9 0zM132.06 301.35a1.45 1.45 0 1 0 2.9 0a1.45 1.45 0 1 0 -2.9 0zM133.53 298.2a1.45 1.45 0 1 0 2.9 0a1.45 1.45 0 1 0 -2.9 0zM134.99 295.06a1.45 1.45 0 1 0 2.9 0a1.45 1.45 0 1 0 -2.9 0zM136.46 291.91a1.45 1.45 0 1 0 2.9 0a1.45 1.45 0 1 0 -2.9 0zM137.93 289.09a1.45 1.45 0 1 0 2.9 0a1.45 1.45 0 1 0 -2.9 0zM139.4 286.35a1.45 1.45 0 1 0 2.9 0a1.45 1.45 0 1 0 -2.9 0zM140.87 283.62a1.45 1.45 0 1 0 2.9 0a1.45 1.45 0 1 0 -2.9 0zM142.33 280.88a1.45 1.45 0 1 0 2.9 0a1.45 1.45 0 1 0 -2.9 0zM143.8 278.41a1.45 1.45 0 1 0 2.9 0a1.45 1.45 0 1 0 -2.9 0zM145.27 276.22a1.45 1.45 0 1 0 2.9 0a1.45 1.45 0 1 0 -2.9 0zM146.74 274.04a1.45 1.45 0 1 0 2.9 0a1.45 1.45 0 1 0 -2.9 0zM148.21 271.85a1.45 1.45 0 1 0 2.9 0a1.45 1.45 0 1 0 -2.9 0zM149.67 269.72a1.45 1.45 0 1 0 2.9 0a1.45 1.45 0 1 0 -2.9 0zM151.14 268.77a1.45 1.45 0 1 0 2.9 0a1.45 1.45 0 1 0 -2.9 0zM152.61 267.81a1.45 1.45 0 1 0 2.9 0a1.45 1.45 0 1 0 -2.9 0zM154.08 266.86a1.45 1.45 0 1 0 2.9 0a1.45 1.45 0 1 0 -2.9 0zM155.54 265.9a1.45 1.45 0 1 0 2.9 0a1.45 1.45 0 1 0 -2.9 0zM157.01 264.95a1.45 1.45 0 1 0 2.9 0a1.45 1.45 0 1 0 -2.9 0zM158.48 263.99a1.45 1.45 0 1 0 2.9 0a1.45 1.45 0 1 0 -2.9 0zM159.95 263.04a1.45 1.45 0 1 0 2.9 0a1.45 1.45 0 1 0 -2.9 0zM161.42 262.08a1.45 1.45 0 1 0 2.9 0a1.45 1.45 0 1 0 -2.9 0zM162.88 261.2a1.45 1.45 0 1 0 2.9 0a1.45 1.45 0 1 0 -2.9 0zM164.35 260.33a1.45 1.45 0 1 0 2.9 0a1.45 1.45 0 1 0 -2.9 0zM165.82 259.45a1.45 1.45 0 1 0 2.9 0a1.45 1.45 0 1 0 -2.9 0zM167.29 258.57a1.45 1.45 0 1 0 2.9 0a1.45 1.45 0 1 0 -2.9 0zM168.75 257.69a1.45 1.45 0 1 0 2.9 0a1.45 1.45 0 1 0 -2.9 0zM170.22 256.81a1.45 1.45 0 1 0 2.9 0a1.45 1.45 0 1 0 -2.9 0zM171.69 255.93a1.45 1.45 0 1 0 2.9 0a1.45 1.45 0 1 0 -2.9 0zM173.16 255.39a1.45 1.45 0 1 0 2.9 0a1.45 1.45 0 1 0 -2.9 0zM174.63 254.94a1.45 1.45 0 1 0 2.9 0a1.45 1.45 0 1 0 -2.9 0zM176.09 254.49a1.45 1.45 0 1 0 2.9 0a1.45 1.45 0 1 0 -2.9 0zM177.56 254.04a1.45 1.45 0 1 0 2.9 0a1.45 1.45 0 1 0 -2.9 0zM179.03 253.59a1.45 1.45 0 1 0 2.9 0a1.45 1.45 0 1 0 -2.9 0zM180.5 253.14a1.45 1.45 0 1 0 2.9 0a1.45 1.45 0 1 0 -2.9 0zM181.97 252.68a1.45 1.45 0 1 0 2.9 0a1.45 1.45 0 1 0 -2.9 0zM183.43 252.23a1.45 1.45 0 1 0 2.9 0a1.45 1.45 0 1 0 -2.9 0zM184.9 251.78a1.45 1.45 0 1 0 2.9 0a1.45 1.45 0 1 0 -2.9 0zM186.37 251.33a1.45 1.45 0 1 0 2.9 0a1.45 1.45 0 1 0 -2.9 0zM187.84 250.88a1.45 1.45 0 1 0 2.9 0a1.45 1.45 0 1 0 -2.9 0zM189.3 250.43a1.45 1.45 0 1 0 2.9 0a1.45 1.45 0 1 0 -2.9 0z" stroke="#ff0000" stroke-width="1.0" fill="none"/>
<path d="M87.16 410.88L88.2 410.88L89.25 410.88L90.29 410.88L91.34 410.88L92.38 404.46L93.42 404.46L94.47 398.04L95.51 398.04L96.56 398.04L97.6 398.04L98.64 398.04L99.69 391.62L100.73 391.62L101.78 391.62L102.82 391.62L103.87 391.62L104.91 391.62L105.95 391.62L107 391.62L108.04 385.2L109.09 385.2L110.13 378.78L111.17 378.78L112.22 372.37L113.26 365.95L114.31 365.95L115.35 359.53L116.39 359.53L117.44 353.11L118.48 353.11L119.53 346.69L120.57 340.27L121.62 340.27L122.66 333.85L123.7 333.85L124.75 333.85L125.79 333.85L126.84 333.85L127.88 333.85L128.92 333.85L129.97 327.43L131.01 327.43L132.06 327.43L133.1 321.01L134.14 321.01L135.19 321.01L136.23 321.01L137.28 321.01L138.32 314.59L139.37 314.59L140.41 308.17L141.45 308.17L142.5 308.17L143.54 301.75L144.59 301.75L145.63 295.33L146.67 288.92L147.72 288.92L148.76 282.5L149.81 269.66L150.85 269.66L151.89 269.66L152.94 269.66L153.98 269.66L155.03 269.66L156.07 269.66L157.12 263.24L158.16 263.24L159.2 263.24L160.25 263.24L161.29 263.24L162.34 263.24L163.38 263.24L164.42 263.24L165.47 263.24L166.51 263.24L167.56 263.24L168.6 263.24L169.64 263.24L170.69 256.82L171.73 256.82L172.78 256.82L173.82 256.82L174.87 256.82L175.91 256.82L176.95 256.82L178 256.82L179.04 256.82L180.09 256.82L181.13 256.82L182.17 256.82L183.22 256.82L184.26 256.82L185.31 256.82L186.35 256.82L187.39 256.82L188.44 256.82" stroke="#00ff00" stroke-width="0.9" fill="none" stroke-linejoin="round"/>
<path d="M85.46 409.52l3.4 0l-1.7 3.23zM86.5 409.52l3.4 0l-1.7 3.23zM87.55 409.52l3.4 0l-1.7 3.23zM88.59 409.52l3.4 0l-1.7 3.23zM89.64 409.52l3.4 0l-1.7 3.23zM90.68 403.1l3.4 0l-1.7 3.23zM91.72 403.1l3.4 0l-1.7 3.23zM92.77 396.68l3.4 0l-1.7 3.23zM93.81 396.68l3.4 0l-1.7 3.23zM94.86 396.68l3.4 0l-1.7 3.23zM95.9 396.68l3.4 0l-1.7 3.23zM96.94 396.68l3.4 0l-1.7 3.23zM97.99 390.26l3.4 0l-1.7 3.23zM99.03 390.26l3.4 0l-1.7 3.23zM100.08 390.26l3.4 0l-1.7 3.23zM101.12 390.26l3.4 0l-1.7 3.23zM102.17 390.26l3.4 0l-1.7 3.23zM103.21 390.26l3.4 0l-1.7 3.23zM104.25 390.26l3.4 0l-1.7 3.23zM105.3 390.26l3.4 0l-1.7 3.23zM106.34 383.84l3.4 0l-1.7 3.23zM107.39 383.84l3.4 0l-1.7 3.23zM108.43 377.42l3.4 0l-1.7 3.23zM109.47 377.42l3.4 0l-1.7 3.23zM110.52 371.01l3.4 0l-1.7 3.23zM111.56 364.59l3.4 0l-1.7 3.23zM112.61 364.59l3.4 0l-1.7 3.23zM113.65 358.17l3.4 0l-1.7 3.23zM114.69 358.17l3.4 0l-1.7 3.23zM115.74 351.75l3.4 0l-1.7 3.23zM116.78 351.75l3.4 0l-1.7 3.23zM117.83 345.33l3.4 0l-1.7 3.23zM118.87 338.91l3.4 0l-1.7 3.23zM119.92 338.91l3.4 0l-1.7 3.23zM120.96 332.49l3.4 0l-1.7 3.23zM122 332.49l3.4 0l-1.7 3.23zM123.05 332.49l3.4 0l-1.7 3.23zM124.09 332.49l3.4 0l-1.7 3.23zM125.14 332.49l3.4 0l-1.7 3.23zM126.18 332.49l3.4 0l-1.7 3.23zM127.22 332.49l3.4 0l-1.7 3.23zM128.27 326.07l3.4 0l-1.7 3.23zM129.31 326.07l3.4 0l-1.7 3.23zM130.36 326.07l3.4 0l-1.7 3.23zM131.4 319.65l3.4 0l-1.7 3.23zM132.44 319.65l3.4 0l-1.7 3.23zM133.49 319.65l3.4 0l-1.7 3.23zM134.53 319.65l3.4 0l-1.7 3.23zM135.58 319.65l3.4 0l-1.7 3.23zM136.62 313.23l3.4 0l-1.7 3.23zM137.67 313.23l3.4 0l-1.7 3.23zM138.71 306.81l3.4 0l-1.7 3.23zM139.75 306.81l3.4 0l-1.7 3.23zM140.8 306.81l3.4 0l-1.7 3.23zM141.84 300.39l3.4 0l-1.7 3.23zM142.89 300.39l3.4 0l-1.7 3.23zM143.93 293.97l3.4 0l-1.7 3.23zM144.97 287.56l3.4 0l-1.7 3.23zM146.02 287.56l3.4 0l-1.7 3.23zM147.06 281.14l3.4 0l-1.7 3.23zM148.11 268.3l3.4 0l-1.7 3.23zM149.15 268.3l3.4 0l-1.7 3.23zM150.19 268.3l3.4 0l-1.7 3.23zM151.24 268.3l3.4 0l-1.7 3.23zM152.28 268.3l3.4 0l-1.7 3.23zM153.33 268.3l3.4 0l-1.7 3.23zM154.37 268.3l3.4 0l-1.7 3.23zM155.42 261.88l3.4 0l-1.7 3.23zM156.46 261.88l3.4 0l-1.7 3.23zM157.5 261.88l3.4 0l-1.7 3.23zM158.55 261.88l3.4 0l-1.7 3.23zM159.59 261.88l3.4 0l-1.7 3.23zM160.64 261.88l3.4 0l-1.7 3.23zM161.68 261.88l3.4 0l-1.7 3.23zM162.72 261.88l3.4 0l-1.7 3.23zM163.77 261.88l3.4 0l-1.7 3.23zM164.81 261.88l3.4 0l-1.7 3.23zM165.86 261.88l3.4 0l-1.7 3.23zM166.9 261.88l3.4 0l-1.7 3.23zM167.94 261.88l3.4 0l-1.7 3.23zM168.99 255.46l3.4 0l-1.7 3.23zM170.03 255.46l3.4 0l-1.7 3.23zM171.08 255.46l3.4 0l-1.7 3.23zM172.12 255.46l3.4 0l-1.7 3.23zM173.17 255.46l3.4 0l-1.7 3.23zM174.21 255.46l3.4 0l-1.7 3.23zM175.25 255.46l3.4 0l-1.7 3.23zM176.3 255.46l3.4 0l-1.7 3.23zM177.34 255.46l3.4 0l-1.7 3.23zM178.39 255.46l3.4 0l-1.7 3.23zM179.43 255.46l3.4 0l-1.7 3.23zM180.47 255.46l3.4 0l-1.7 3.23zM181.52 255.46l3.4 0l-1.7 3.23zM182.56 255.46l3.4 0l-1.7 3.23zM183.61 255.46l3.4 0l-1.7 3.23zM184.65 255.46l3.4 0l-1.7 3.23zM185.69 255.46l3.4 0l-1.7 3.23zM186.74 255.46l3.4 0l-1.7 3.23z" stroke="#00ff00" stroke-width="0.7" fill="#00ff00"/>
<path d="M45.44 417.3L46.91 417.04L48.38 416.78L49.84 416.52L51.31 416.26L52.78 416L54.25 415.67L55.72 415.1L57.18 414.54L58.65 413.97L60.12 413.41L61.59 412.84L63.05 412.28L64.52 411.81L65.99 411.39L67.46 410.96L68.93 410.54L70.39 410.11L71.86 409.68L73.33 409.35L74.8 409.02L76.26 408.7L77.73 408.37L79.2 408.05L80.67 407.73L82.14 407.02L83.6 406.13L85.07 404.58L86.54 402.61L88.01 400.64L89.47 398.67L90.94 396.71L92.41 394.75L93.88 392.79L95.35 390.62L96.81 388.14L98.28 385.66L99.75 383.18L101.22 380.68L102.69 378.19L104.15 375.63L105.62 373.02L107.09 370.41L108.56 367.42L110.02 363.93L111.49 360.44L112.96 356.89L114.43 352.94L115.9 348.99L117.36 345.24L118.83 341.64L120.3 338.04L121.77 334.44L123.23 329.31L124.7 323.88L126.17 318.44L127.64 314.91L129.11 311.49L130.57 308.06L132.04 304.63L133.51 301.35L134.98 298.2L136.44 295.06L137.91 291.91L139.38 289.09L140.85 286.35L142.32 283.62L143.78 280.88L145.25 278.41L146.72 276.22L148.19 274.04L149.66 271.85L151.12 269.72L152.59 268.77L154.06 267.81L155.53 266.86L156.99 265.9L158.46 264.95L159.93 263.99L161.4 263.04L162.87 262.08L164.33 261.2L165.8 260.33L167.27 259.45L168.74 258.57L170.2 257.69L171.67 256.81L173.14 255.93L174.61 255.37L176.08 254.9L177.54 254.43L179.01 253.96L180.48 253.49L181.95 253.02L183.42 252.55L184.88 252.08L186.35 251.6L187.82 251.13L189.29 250.66L190.1 250.4" stroke="#000000" stroke-width="0.8" fill="none" stroke-linejoin="round"/>
<path d="M45.44 415.61l1.25 1.69l-1.25 1.69l-1.25 -1.69zM46.91 415.35l1.25 1.69l-1.25 1.69l-1.25 -1.69zM48.38 415.09l1.25 1.69l-1.25 1.69l-1.25 -1.69zM49.84 414.83l1.25 1.69l-1.25 1.69l-1.25 -1.69zM51.31 414.57l1.25 1.69l-1.25 1.69l-1.25 -1.69zM52.78 414.31l1.25 1.69l-1.25 1.69l-1.25 -1.69zM54.25 413.98l1.25 1.69l-1.25 1.69l-1.25 -1.69zM55.72 413.42l1.25 1.69l-1.25 1.69l-1.25 -1.69zM57.18 412.85l1.25 1.69l-1.25 1.69l-1.25 -1.69zM58.65 412.29l1.25 1.69l-1.25 1.69l-1.25 -1.69zM60.12 411.72l1.25 1.69l-1.25 1.69l-1.25 -1.69zM61.59 411.16l1.25 1.69l-1.25 1.69l-1.25 -1.69zM63.05 410.59l1.25 1.69l-1.25 1.69l-1.25 -1.69zM64.52 410.13l1.25 1.69l-1.25 1.69l-1.25 -1.69zM65.99 409.7l1.25 1.69l-1.25 1.69l-1.25 -1.69zM67.46 409.27l1.25 1.69l-1.25 1.69l-1.25 -1.69zM68.93 408.85l1.25 1.69l-1.25 1.69l-1.25 -1.69zM70.39 408.42l1.25 1.69l-1.25 1.69l-1.25 -1.69zM71.86 408l1.25 1.69l-1.25 1.69l-1.25 -1.69zM73.33 407.66l1.25 1.69l-1.25 1.69l-1.25 -1.69zM74.8 407.33l1.25 1.69l-1.25 1.69l-1.25 -1.69zM76.26 407.01l1.25 1.69l-1.25 1.69l-1.25 -1.69zM77.73 406.69l1.25 1.69l-1.25 1.69l-1.25 -1.69zM79.2 406.36l1.25 1.69l-1.25 1.69l-1.25 -1.69zM80.67 406.04l1.25 1.69l-1.25 1.69l-1.25 -1.69zM82.14 405.34l1.25 1.69l-1.25 1.69l-1.25 -1.69zM83.6 404.45l1.25 1.69l-1.25 1.69l-1.25 -1.69zM85.07 402.9l1.25 1.69l-1.25 1.69l-1.25 -1.69zM86.54 400.92l1.25 1.69l-1.25 1.69l-1.25 -1.69zM88.01 398.95l1.25 1.69l-1.25 1.69l-1.25 -1.69zM89.47 396.98l1.25 1.69l-1.25 1.69l-1.25 -1.69zM90.94 395.02l1.25 1.69l-1.25 1.69l-1.25 -1.69zM92.41 393.06l1.25 1.69l-1.25 1.69l-1.25 -1.69zM93.88 391.1l1.25 1.69l-1.25 1.69l-1.25 -1.69zM95.35 388.94l1.25 1.69l-1.25 1.69l-1.25 -1.69zM96.81 386.46l1.25 1.69l-1.25 1.69l-1.25 -1.69zM98.28 383.97l1.25 1.69l-1.25 1.69l-1.25 -1.69zM99.75 381.49l1.25 1.69l-1.25 1.69l-1.25 -1.69zM101.22 379l1.25 1.69l-1.25 1.69l-1.25 -1.69zM102.69 376.51l1.25 1.69l-1.25 1.69l-1.25 -1.69zM104.15 373.94l1.25 1.69l-1.25 1.69l-1.25 -1.69zM105.62 371.33l1.25 1.69l-1.25 1.69l-1.25 -1.69zM107.09 368.72l1.25 1.69l-1.25 1.69l-1.25 -1.69zM108.56 365.74l1.25 1.69l-1.25 1.69l-1.25 -1.69zM110.02 362.25l1.25 1.69l-1.25 1.69l-1.25 -1.69zM111.49 358.75l1.25 1.69l-1.25 1.69l-1.25 -1.69zM112.96 355.21l1.25 1.69l-1.25 1.69l-1.25 -1.69zM114.43 351.26l1.25 1.69l-1.25 1.69l-1.25 -1.69zM115.9 347.31l1.25 1.69l-1.25 1.69l-1.25 -1.69zM117.36 343.55l1.25 1.69l-1.25 1.69l-1.25 -1.69zM118.83 339.95l1.25 1.69l-1.25 1.69l-1.25 -1.69zM120.3 336.35l1.25 1.69l-1.25 1.69l-1.25 -1.69zM121.77 332.76l1.25 1.69l-1.25 1.69l-1.25 -1.69zM123.23 327.62l1.25 1.69l-1.25 1.69l-1.25 -1.69zM124.7 322.19l1.25 1.69l-1.25 1.69l-1.25 -1.69zM126.17 316.75l1.25 1.69l-1.25 1.69l-1.25 -1.69zM127.64 313.22l1.25 1.69l-1.25 1.69l-1.25 -1.69zM129.11 309.8l1.25 1.69l-1.25 1.69l-1.25 -1.69zM130.57 306.37l1.25 1.69l-1.25 1.69l-1.25 -1.69zM132.04 302.95l1.25 1.69l-1.25 1.69l-1.25 -1.69zM133.51 299.66l1.25 1.69l-1.25 1.69l-1.25 -1.69zM134.98 296.52l1.25 1.69l-1.25 1.69l-1.25 -1.69zM136.44 293.37l1.25 1.69l-1.25 1.69l-1.25 -1.69zM137.91 290.22l1.25 1.69l-1.25 1.69l-1.25 -1.69zM139.38 287.4l1.25 1.69l-1.25 1.69l-1.25 -1.69zM140.85 284.67l1.25 1.69l-1.25 1.69l-1.25 -1.69zM142.32 281.93l1.25 1.69l-1.25 1.69l-1.25 -1.69zM143.78 279.19l1.25 1.69l-1.25 1.69l-1.25 -1.69zM145.25 276.72l1.25 1.69l-1.25 1.69l-1.25 -1.69zM146.72 274.53l1.25 1.69l-1.25 1.69l-1.25 -1.69zM148.19 272.35l1.25 1.69l-1.25 1.69l-1.25 -1.69zM149.66 270.17l1.25 1.69l-1.25 1.69l-1.25 -1.69zM151.12 268.03l1.25 1.69l-1.25 1.69l-1.25 -1.69zM152.59 267.08l1.25 1.69l-1.25 1.69l-1.25 -1.69zM154.06 266.12l1.25 1.69l-1.25 1.69l-1.25 -1.69zM155.53 265.17l1.25 1.69l-1.25 1.69l-1.25 -1.69zM156.99 264.21l1.25 1.69l-1.25 1.69l-1.25 -1.69zM158.46 263.26l1.25 1.69l-1.25 1.69l-1.25 -1.69zM159.93 262.31l1.25 1.69l-1.25 1.69l-1.25 -1.69zM161.4 261.35l1.25 1.69l-1.25 1.69l-1.25 -1.69zM162.87 260.4l1.25 1.69l-1.25 1.69l-1.25 -1.69zM164.33 259.52l1.25 1.69l-1.25 1.69l-1.25 -1.69zM165.8 258.64l1.25 1.69l-1.25 1.69l-1.25 -1.69zM167.27 257.76l1.25 1.69l-1.25 1.69l-1.25 -1.69zM168.74 256.88l1.25 1.69l-1.25 1.69l-1.25 -1.69zM170.2 256l1.25 1.69l-1.25 1.69l-1.25 -1.69zM171.67 255.12l1.25 1.69l-1.25 1.69l-1.25 -1.69zM173.14 254.24l1.25 1.69l-1.25 1.69l-1.25 -1.69zM174.61 253.68l1.25 1.69l-1.25 1.69l-1.25 -1.69zM176.08 253.21l1.25 1.69l-1.25 1.69l-1.25 -1.69zM177.54 252.74l1.25 1.69l-1.25 1.69l-1.25 -1.69zM179.01 252.27l1.25 1.69l-1.25 1.69l-1.25 -1.69zM180.48 251.8l1.25 1.69l-1.25 1.69l-1.25 -1.69zM181.95 251.33l1.25 1.69l-1.25 1.69l-1.25 -1.69zM183.42 250.86l1.25 1.69l-1.25 1.69l-1.25 -1.69zM184.88 250.39l1.25 1.69l-1.25 1.69l-1.25 -1.69zM186.35 249.92l1.25 1.69l-1.25 1.69l-1.25 -1.69zM187.82 249.45l1.25 1.69l-1.25 1.69l-1.25 -1.69zM189.29 248.97l1.25 1.69l-1.25 1.69l-1.25 -1.69zM190.1 248.71l1.25 1.69l-1.25 1.69l-1.25 -1.69z" stroke="#000000" stroke-width="0.8" fill="none"/>
<rect x="23.65" y="250.4" width="211.85" height="166.9" fill="none" stroke="#222" stroke-width="1.2"/>
<path d="M53.91 417.3v-2.2M53.91 250.4v2.2M84.18 417.3v-2.2M84.18 250.4v2.2M114.44 417.3v-2.2M114.44 250.4v2.2M144.71 417.3v-2.2M144.71 250.4v2.2M174.97 417.3v-2.2M174.97 250.4v2.2M205.24 417.3v-2.2M205.24 250.4v2.2M23.65 400.61h2.2M235.5 400.61h-2.2M23.65 383.92h2.2M235.5 383.92h-2.2M23.65 367.23h2.2M235.5 367.23h-2.2M23.65 350.54h2.2M235.5 350.54h-2.2M23.65 333.85h2.2M235.5 333.85h-2.2M23.65 317.16h2.2M235.5 317.16h-2.2M23.65 300.47h2.2M235.5 300.47h-2.2M23.65 283.78h2.2M235.5 283.78h-2.2M23.65 267.09h2.2M235.5 267.09h-2.2" stroke="#222" stroke-width="0.8" fill="none"/>
<text x="23.65" y="425.2" class="tk" text-anchor="middle">-0.2</text>
<text x="53.91" y="425.2" class="tk" text-anchor="middle">0</text>
<text x="84.18" y="425.2" class="tk" text-anchor="middle">0.2</text>
<text x="114.44" y="425.2" class="tk" text-anchor="middle">0.4</text>
<text x="144.71" y="425.2" class="tk" text-anchor="middle">0.6</text>
<text x="174.97" y="425.2" class="tk" text-anchor="middle">0.8</text>
<text x="205.24" y="425.2" class="tk" text-anchor="middle">1</text>
<text x="235.5" y="425.2" class="tk" text-anchor="middle">1.2</text>
<text x="21.85" y="419.8" class="tk" text-anchor="end">0</text>
<text x="21.85" y="403.11" class="tk" text-anchor="end">0.1</text>
<text x="21.85" y="386.42" class="tk" text-anchor="end">0.2</text>
<text x="21.85" y="369.73" class="tk" text-anchor="end">0.3</text>
<text x="21.85" y="353.04" class="tk" text-anchor="end">0.4</text>
<text x="21.85" y="336.35" class="tk" text-anchor="end">0.5</text>
<text x="21.85" y="319.66" class="tk" text-anchor="end">0.6</text>
<text x="21.85" y="302.97" class="tk" text-anchor="end">0.7</text>
<text x="21.85" y="286.28" class="tk" text-anchor="end">0.8</text>
<text x="21.85" y="269.59" class="tk" text-anchor="end">0.9</text>
<text x="21.85" y="252.9" class="tk" text-anchor="end">1</text>
<text x="129.07" y="245.2" class="ti" text-anchor="middle">CDF</text>
<text transform="translate(9.75 334.85) rotate(-90)" class="yl" text-anchor="middle">Ratio</text>
<text x="129.57" y="432.3" class="xs" text-anchor="middle">MCS</text>
<rect x="179.2" y="383" width="53.8" height="32.5" fill="#fff" stroke="#222" stroke-width="1"/>
<path d="M182.2 388h14" stroke="#0000ff" stroke-width="0.7"/>
<path d="M188.12 386.4l0 3.2l3.04 -1.6z" stroke="#0000ff" stroke-width="0.6" fill="#0000ff"/>
<text x="197.4" y="390.3" class="lg">SIFT Global</text>
<path d="M182.2 395.5h14" stroke="#ff0000" stroke-width="0.7"/>
<path d="M187.95 395.5a1.45 1.45 0 1 0 2.9 0a1.45 1.45 0 1 0 -2.9 0z" stroke="#ff0000" stroke-width="0.6" fill="none"/>
<text x="197.4" y="397.8" class="lg">SIFT Local</text>
<path d="M182.2 403h14" stroke="#00ff00" stroke-width="0.7"/>
<path d="M187.7 401.64l3.4 0l-1.7 3.23z" stroke="#00ff00" stroke-width="0.6" fill="#00ff00"/>
<text x="197.4" y="405.3" class="lg">OCT Global</text>
<path d="M182.2 410.5h14" stroke="#000000" stroke-width="0.7"/>
<path d="M189.4 408.81l1.25 1.69l-1.25 1.69l-1.25 -1.69z" stroke="#000000" stroke-width="0.6" fill="none"/>
<text x="197.4" y="412.8" class="lg">OCT Local</text>
<text x="123.7" y="458.3" class="sb" text-anchor="middle">(c)</text>
</g>
<g>
<path d="M360.3 248.3V418.4M396.3 248.3V418.4M432.3 248.3V418.4M468.3 248.3V418.4M504.3 248.3V418.4M324.3 401.39H540.3M324.3 384.38H540.3M324.3 367.37H540.3M324.3 350.36H540.3M324.3 333.35H540.3M324.3 316.34H540.3M324.3 299.33H540.3M324.3 282.32H540.3M324.3 265.31H540.3" stroke="#bcbcbc" stroke-width="0.7" stroke-dasharray="0.9 1.3" fill="none"/>
<path d="M343.26 412.53L344.76 412.53L346.26 412.53L347.76 412.53L349.27 412.53L350.77 412.53L352.27 412.53L353.77 412.53L355.27 412.53L356.77 412.53L358.27 412.53L359.77 412.53L361.28 412.53L362.78 412.53L364.28 412.53L365.78 406.67L367.28 406.67L368.78 406.67L370.28 406.67L371.78 406.67L373.29 406.67L374.79 406.67L376.29 406.67L377.79 394.94L379.29 394.94L380.79 394.94L382.29 394.94L383.79 394.94L385.29 394.94L386.8 394.94L388.3 394.94L389.8 394.94L391.3 394.94L392.8 394.94L394.3 394.94L395.8 394.94L397.3 394.94L398.81 394.94L400.31 389.07L401.81 389.07L403.31 389.07L404.81 377.34L406.31 377.34L407.81 371.48L409.31 371.48L410.82 371.48L412.32 371.48L413.82 371.48L415.32 371.48L416.82 365.61L418.32 365.61L419.82 365.61L421.32 365.61L422.82 365.61L424.33 359.74L425.83 359.74L427.33 359.74L428.83 359.74L430.33 353.88L431.83 348.01L433.33 348.01L434.83 336.28L436.34 336.28L437.84 336.28L439.34 324.55L440.84 312.82L442.34 306.96L443.84 289.36L445.34 289.36L446.84 289.36L448.35 289.36L449.85 289.36L451.35 289.36L452.85 277.63L454.35 277.63L455.85 277.63L457.35 277.63L458.85 277.63L460.35 265.9L461.86 265.9L463.36 265.9L464.86 265.9L466.36 265.9L467.86 265.9L469.36 265.9L470.86 265.9L472.36 260.03L473.87 260.03L475.37 260.03L476.87 260.03L478.37 260.03L479.87 260.03L481.37 260.03L482.87 260.03L484.37 260.03L485.88 254.17L486.66 248.3" stroke="#0000ff" stroke-width="0.8" fill="none" stroke-linejoin="round"/>
<path d="M341.98 410.93l0 3.2l3.04 -1.6zM343.48 410.93l0 3.2l3.04 -1.6zM344.98 410.93l0 3.2l3.04 -1.6zM346.48 410.93l0 3.2l3.04 -1.6zM347.99 410.93l0 3.2l3.04 -1.6zM349.49 410.93l0 3.2l3.04 -1.6zM350.99 410.93l0 3.2l3.04 -1.6zM352.49 410.93l0 3.2l3.04 -1.6zM353.99 410.93l0 3.2l3.04 -1.6zM355.49 410.93l0 3.2l3.04 -1.6zM356.99 410.93l0 3.2l3.04 -1.6zM358.49 410.93l0 3.2l3.04 -1.6zM360 410.93l0 3.2l3.04 -1.6zM361.5 410.93l0 3.2l3.04 -1.6zM363 410.93l0 3.2l3.04 -1.6zM364.5 405.07l0 3.2l3.04 -1.6zM366 405.07l0 3.2l3.04 -1.6zM367.5 405.07l0 3.2l3.04 -1.6zM369 405.07l0 3.2l3.04 -1.6zM370.5 405.07l0 3.2l3.04 -1.6zM372.01 405.07l0 3.2l3.04 -1.6zM373.51 405.07l0 3.2l3.04 -1.6zM375.01 405.07l0 3.2l3.04 -1.6zM376.51 393.34l0 3.2l3.04 -1.6zM378.01 393.34l0 3.2l3.04 -1.6zM379.51 393.34l0 3.2l3.04 -1.6zM381.01 393.34l0 3.2l3.04 -1.6zM382.51 393.34l0 3.2l3.04 -1.6zM384.01 393.34l0 3.2l3.04 -1.6zM385.52 393.34l0 3.2l3.04 -1.6zM387.02 393.34l0 3.2l3.04 -1.6zM388.52 393.34l0 3.2l3.04 -1.6zM390.02 393.34l0 3.2l3.04 -1.6zM391.52 393.34l0 3.2l3.04 -1.6zM393.02 393.34l0 3.2l3.04 -1.6zM394.52 393.34l0 3.2l3.04 -1.6zM396.02 393.34l0 3.2l3.04 -1.6zM397.53 393.34l0 3.2l3.04 -1.6zM399.03 387.47l0 3.2l3.04 -1.6zM400.53 387.47l0 3.2l3.04 -1.6zM402.03 387.47l0 3.2l3.04 -1.6zM403.53 375.74l0 3.2l3.04 -1.6zM405.03 375.74l0 3.2l3.04 -1.6zM406.53 369.88l0 3.2l3.04 -1.6zM408.03 369.88l0 3.2l3.04 -1.6zM409.54 369.88l0 3.2l3.04 -1.6zM411.04 369.88l0 3.2l3.04 -1.6zM412.54 369.88l0 3.2l3.04 -1.6zM414.04 369.88l0 3.2l3.04 -1.6zM415.54 364.01l0 3.2l3.04 -1.6zM417.04 364.01l0 3.2l3.04 -1.6zM418.54 364.01l0 3.2l3.04 -1.6zM420.04 364.01l0 3.2l3.04 -1.6zM421.54 364.01l0 3.2l3.04 -1.6zM423.05 358.14l0 3.2l3.04 -1.6zM424.55 358.14l0 3.2l3.04 -1.6zM426.05 358.14l0 3.2l3.04 -1.6zM427.55 358.14l0 3.2l3.04 -1.6zM429.05 352.28l0 3.2l3.04 -1.6zM430.55 346.41l0 3.2l3.04 -1.6zM432.05 346.41l0 3.2l3.04 -1.6zM433.55 334.68l0 3.2l3.04 -1.6zM435.06 334.68l0 3.2l3.04 -1.6zM436.56 334.68l0 3.2l3.04 -1.6zM438.06 322.95l0 3.2l3.04 -1.6zM439.56 311.22l0 3.2l3.04 -1.6zM441.06 305.36l0 3.2l3.04 -1.6zM442.56 287.76l0 3.2l3.04 -1.6zM444.06 287.76l0 3.2l3.04 -1.6zM445.56 287.76l0 3.2l3.04 -1.6zM447.07 287.76l0 3.2l3.04 -1.6zM448.57 287.76l0 3.2l3.04 -1.6zM450.07 287.76l0 3.2l3.04 -1.6zM451.57 276.03l0 3.2l3.04 -1.6zM453.07 276.03l0 3.2l3.04 -1.6zM454.57 276.03l0 3.2l3.04 -1.6zM456.07 276.03l0 3.2l3.04 -1.6zM457.57 276.03l0 3.2l3.04 -1.6zM459.07 264.3l0 3.2l3.04 -1.6zM460.58 264.3l0 3.2l3.04 -1.6zM462.08 264.3l0 3.2l3.04 -1.6zM463.58 264.3l0 3.2l3.04 -1.6zM465.08 264.3l0 3.2l3.04 -1.6zM466.58 264.3l0 3.2l3.04 -1.6zM468.08 264.3l0 3.2l3.04 -1.6zM469.58 264.3l0 3.2l3.04 -1.6zM471.08 258.43l0 3.2l3.04 -1.6zM472.59 258.43l0 3.2l3.04 -1.6zM474.09 258.43l0 3.2l3.04 -1.6zM475.59 258.43l0 3.2l3.04 -1.6zM477.09 258.43l0 3.2l3.04 -1.6zM478.59 258.43l0 3.2l3.04 -1.6zM480.09 258.43l0 3.2l3.04 -1.6zM481.59 258.43l0 3.2l3.04 -1.6zM483.09 258.43l0 3.2l3.04 -1.6zM484.6 252.57l0 3.2l3.04 -1.6zM485.38 246.7l0 3.2l3.04 -1.6z" stroke="#0000ff" stroke-width="0.7" fill="#0000ff"/>
<path d="M328.8 417.55L330.46 417.31L332.11 417.07L333.77 416.83L335.42 416.59L337.08 416.35L338.74 416.11L340.39 415.88L342.05 415.64L343.7 415.43L345.36 415.22L347.02 415L348.67 414.79L350.33 414.58L351.98 414.37L353.64 414.15L355.3 413.94L356.95 413.73L358.61 413.51L360.26 413.3L361.92 413.03L363.58 412.75L365.23 412.47L366.89 412.19L368.54 411.92L370.2 411.64L371.86 411.36L373.51 411.09L375.17 410.81L376.82 410.53L378.48 410.13L380.14 409.61L381.79 409.1L383.45 408.59L385.1 408.08L386.76 407.57L388.42 406.96L390.07 406.29L391.73 405.62L393.38 404.95L395.04 404.28L396.7 403.53L398.35 402.51L400.01 401.49L401.66 400.48L403.32 399.46L404.98 398.27L406.63 397.06L408.29 395.85L409.94 394.64L411.6 393.36L413.26 391.42L414.91 389.48L416.57 387.55L418.22 385.61L419.88 382.03L421.54 378.4L423.19 374.71L424.85 371.03L426.5 367.35L428.16 363.94L429.82 360.75L431.47 357.57L433.13 354.23L434.78 350.75L436.44 347.01L438.1 341.22L439.75 335.43L441.41 329.27L443.06 323.08L444.72 317.12L446.38 311.36L448.03 305.67L449.69 300.42L451.34 295.17L453 290.09L454.66 286.49L456.31 282.88L457.97 279.28L459.62 276.34L461.28 274.02L462.94 271.69L464.59 269.36L466.25 267.27L467.9 265.76L469.56 264.25L471.22 262.74L472.87 261.24L474.53 259.73L476.18 258.56L477.84 257.87L479.5 257.18L481.15 256.49L482.81 255.8L484.46 255.11L486.12 254.42L487.78 253.73L489.43 253.24L491.09 252.75L492.74 252.26L494.4 251.77L496.06 251.27L497.71 250.78L499.37 250.29L501.02 249.92L502.68 249.73L504.34 249.54L505.99 249.35L507.65 249.16L509.3 248.97L510.96 248.78L512.62 248.59L514.27 248.4L515.1 248.3" stroke="#ff0000" stroke-width="0.8" fill="none" stroke-linejoin="round"/>
<path d="M327.35 417.55a1.45 1.45 0 1 0 2.9 0a1.45 1.45 0 1 0 -2.9 0zM329.01 417.31a1.45 1.45 0 1 0 2.9 0a1.45 1.45 0 1 0 -2.9 0zM330.66 417.07a1.45 1.45 0 1 0 2.9 0a1.45 1.45 0 1 0 -2.9 0zM332.32 416.83a1.45 1.45 0 1 0 2.9 0a1.45 1.45 0 1 0 -2.9 0zM333.97 416.59a1.45 1.45 0 1 0 2.9 0a1.45 1.45 0 1 0 -2.9 0zM335.63 416.35a1.45 1.45 0 1 0 2.9 0a1.45 1.45 0 1 0 -2.9 0zM337.29 416.11a1.45 1.45 0 1 0 2.9 0a1.45 1.45 0 1 0 -2.9 0zM338.94 415.88a1.45 1.45 0 1 0 2.9 0a1.45 1.45 0 1 0 -2.9 0zM340.6 415.64a1.45 1.45 0 1 0 2.9 0a1.45 1.45 0 1 0 -2.9 0zM342.25 415.43a1.45 1.45 0 1 0 2.9 0a1.45 1.45 0 1 0 -2.9 0zM343.91 415.22a1.45 1.45 0 1 0 2.9 0a1.45 1.45 0 1 0 -2.9 0zM345.57 415a1.45 1.45 0 1 0 2.9 0a1.45 1.45 0 1 0 -2.9 0zM347.22 414.79a1.45 1.45 0 1 0 2.9 0a1.45 1.45 0 1 0 -2.9 0zM348.88 414.58a1.45 1.45 0 1 0 2.9 0a1.45 1.45 0 1 0 -2.9 0zM350.53 414.37a1.45 1.45 0 1 0 2.9 0a1.45 1.45 0 1 0 -2.9 0zM352.19 414.15a1.45 1.45 0 1 0 2.9 0a1.45 1.45 0 1 0 -2.9 0zM353.85 413.94a1.45 1.45 0 1 0 2.9 0a1.45 1.45 0 1 0 -2.9 0zM355.5 413.73a1.45 1.45 0 1 0 2.9 0a1.45 1.45 0 1 0 -2.9 0zM357.16 413.51a1.45 1.45 0 1 0 2.9 0a1.45 1.45 0 1 0 -2.9 0zM358.81 413.3a1.45 1.45 0 1 0 2.9 0a1.45 1.45 0 1 0 -2.9 0zM360.47 413.03a1.45 1.45 0 1 0 2.9 0a1.45 1.45 0 1 0 -2.9 0zM362.13 412.75a1.45 1.45 0 1 0 2.9 0a1.45 1.45 0 1 0 -2.9 0zM363.78 412.47a1.45 1.45 0 1 0 2.9 0a1.45 1.45 0 1 0 -2.9 0zM365.44 412.19a1.45 1.45 0 1 0 2.9 0a1.45 1.45 0 1 0 -2.9 0zM367.09 411.92a1.45 1.45 0 1 0 2.9 0a1.45 1.45 0 1 0 -2.9 0zM368.75 411.64a1.45 1.45 0 1 0 2.9 0a1.45 1.45 0 1 0 -2.9 0zM370.41 411.36a1.45 1.45 0 1 0 2.9 0a1.45 1.45 0 1 0 -2.9 0zM372.06 411.09a1.45 1.45 0 1 0 2.9 0a1.45 1.45 0 1 0 -2.9 0zM373.72 410.81a1.45 1.45 0 1 0 2.9 0a1.45 1.45 0 1 0 -2.9 0zM375.37 410.53a1.45 1.45 0 1 0 2.9 0a1.45 1.45 0 1 0 -2.9 0zM377.03 410.13a1.45 1.45 0 1 0 2.9 0a1.45 1.45 0 1 0 -2.9 0zM378.69 409.61a1.45 1.45 0 1 0 2.9 0a1.45 1.45 0 1 0 -2.9 0zM380.34 409.1a1.45 1.45 0 1 0 2.9 0a1.45 1.45 0 1 0 -2.9 0zM382 408.59a1.45 1.45 0 1 0 2.9 0a1.45 1.45 0 1 0 -2.9 0zM383.65 408.08a1.45 1.45 0 1 0 2.9 0a1.45 1.45 0 1 0 -2.9 0zM385.31 407.57a1.45 1.45 0 1 0 2.9 0a1.45 1.45 0 1 0 -2.9 0zM386.97 406.96a1.45 1.45 0 1 0 2.9 0a1.45 1.45 0 1 0 -2.9 0zM388.62 406.29a1.45 1.45 0 1 0 2.9 0a1.45 1.45 0 1 0 -2.9 0zM390.28 405.62a1.45 1.45 0 1 0 2.9 0a1.45 1.45 0 1 0 -2.9 0zM391.93 404.95a1.45 1.45 0 1 0 2.9 0a1.45 1.45 0 1 0 -2.9 0zM393.59 404.28a1.45 1.45 0 1 0 2.9 0a1.45 1.45 0 1 0 -2.9 0zM395.25 403.53a1.45 1.45 0 1 0 2.9 0a1.45 1.45 0 1 0 -2.9 0zM396.9 402.51a1.45 1.45 0 1 0 2.9 0a1.45 1.45 0 1 0 -2.9 0zM398.56 401.49a1.45 1.45 0 1 0 2.9 0a1.45 1.45 0 1 0 -2.9 0zM400.21 400.48a1.45 1.45 0 1 0 2.9 0a1.45 1.45 0 1 0 -2.9 0zM401.87 399.46a1.45 1.45 0 1 0 2.9 0a1.45 1.45 0 1 0 -2.9 0zM403.53 398.27a1.45 1.45 0 1 0 2.9 0a1.45 1.45 0 1 0 -2.9 0zM405.18 397.06a1.45 1.45 0 1 0 2.9 0a1.45 1.45 0 1 0 -2.9 0zM406.84 395.85a1.45 1.45 0 1 0 2.9 0a1.45 1.45 0 1 0 -2.9 0zM408.49 394.64a1.45 1.45 0 1 0 2.9 0a1.45 1.45 0 1 0 -2.9 0zM410.15 393.36a1.45 1.45 0 1 0 2.9 0a1.45 1.45 0 1 0 -2.9 0zM411.81 391.42a1.45 1.45 0 1 0 2.9 0a1.45 1.45 0 1 0 -2.9 0zM413.46 389.48a1.45 1.45 0 1 0 2.9 0a1.45 1.45 0 1 0 -2.9 0zM415.12 387.55a1.45 1.45 0 1 0 2.9 0a1.45 1.45 0 1 0 -2.9 0zM416.77 385.61a1.45 1.45 0 1 0 2.9 0a1.45 1.45 0 1 0 -2.9 0zM418.43 382.03a1.45 1.45 0 1 0 2.9 0a1.45 1.45 0 1 0 -2.9 0zM420.09 378.4a1.45 1.45 0 1 0 2.9 0a1.45 1.45 0 1 0 -2.9 0zM421.74 374.71a1.45 1.45 0 1 0 2.9 0a1.45 1.45 0 1 0 -2.9 0zM423.4 371.03a1.45 1.45 0 1 0 2.9 0a1.45 1.45 0 1 0 -2.9 0zM425.05 367.35a1.45 1.45 0 1 0 2.9 0a1.45 1.45 0 1 0 -2.9 0zM426.71 363.94a1.45 1.45 0 1 0 2.9 0a1.45 1.45 0 1 0 -2.9 0zM428.37 360.75a1.45 1.45 0 1 0 2.9 0a1.45 1.45 0 1 0 -2.9 0zM430.02 357.57a1.45 1.45 0 1 0 2.9 0a1.45 1.45 0 1 0 -2.9 0zM431.68 354.23a1.45 1.45 0 1 0 2.9 0a1.45 1.45 0 1 0 -2.9 0zM433.33 350.75a1.45 1.45 0 1 0 2.9 0a1.45 1.45 0 1 0 -2.9 0zM434.99 347.01a1.45 1.45 0 1 0 2.9 0a1.45 1.45 0 1 0 -2.9 0zM436.65 341.22a1.45 1.45 0 1 0 2.9 0a1.45 1.45 0 1 0 -2.9 0zM438.3 335.43a1.45 1.45 0 1 0 2.9 0a1.45 1.45 0 1 0 -2.9 0zM439.96 329.27a1.45 1.45 0 1 0 2.9 0a1.45 1.45 0 1 0 -2.9 0zM441.61 323.08a1.45 1.45 0 1 0 2.9 0a1.45 1.45 0 1 0 -2.9 0zM443.27 317.12a1.45 1.45 0 1 0 2.9 0a1.45 1.45 0 1 0 -2.9 0zM444.93 311.36a1.45 1.45 0 1 0 2.9 0a1.45 1.45 0 1 0 -2.9 0zM446.58 305.67a1.45 1.45 0 1 0 2.9 0a1.45 1.45 0 1 0 -2.9 0zM448.24 300.42a1.45 1.45 0 1 0 2.9 0a1.45 1.45 0 1 0 -2.9 0zM449.89 295.17a1.45 1.45 0 1 0 2.9 0a1.45 1.45 0 1 0 -2.9 0zM451.55 290.09a1.45 1.45 0 1 0 2.9 0a1.45 1.45 0 1 0 -2.9 0zM453.21 286.49a1.45 1.45 0 1 0 2.9 0a1.45 1.45 0 1 0 -2.9 0zM454.86 282.88a1.45 1.45 0 1 0 2.9 0a1.45 1.45 0 1 0 -2.9 0zM456.52 279.28a1.45 1.45 0 1 0 2.9 0a1.45 1.45 0 1 0 -2.9 0zM458.17 276.34a1.45 1.45 0 1 0 2.9 0a1.45 1.45 0 1 0 -2.9 0zM459.83 274.02a1.45 1.45 0 1 0 2.9 0a1.45 1.45 0 1 0 -2.9 0zM461.49 271.69a1.45 1.45 0 1 0 2.9 0a1.45 1.45 0 1 0 -2.9 0zM463.14 269.36a1.45 1.45 0 1 0 2.9 0a1.45 1.45 0 1 0 -2.9 0zM464.8 267.27a1.45 1.45 0 1 0 2.9 0a1.45 1.45 0 1 0 -2.9 0zM466.45 265.76a1.45 1.45 0 1 0 2.9 0a1.45 1.45 0 1 0 -2.9 0zM468.11 264.25a1.45 1.45 0 1 0 2.9 0a1.45 1.45 0 1 0 -2.9 0zM469.77 262.74a1.45 1.45 0 1 0 2.9 0a1.45 1.45 0 1 0 -2.9 0zM471.42 261.24a1.45 1.45 0 1 0 2.9 0a1.45 1.45 0 1 0 -2.9 0zM473.08 259.73a1.45 1.45 0 1 0 2.9 0a1.45 1.45 0 1 0 -2.9 0zM474.73 258.56a1.45 1.45 0 1 0 2.9 0a1.45 1.45 0 1 0 -2.9 0zM476.39 257.87a1.45 1.45 0 1 0 2.9 0a1.45 1.45 0 1 0 -2.9 0zM478.05 257.18a1.45 1.45 0 1 0 2.9 0a1.45 1.45 0 1 0 -2.9 0zM479.7 256.49a1.45 1.45 0 1 0 2.9 0a1.45 1.45 0 1 0 -2.9 0zM481.36 255.8a1.45 1.45 0 1 0 2.9 0a1.45 1.45 0 1 0 -2.9 0zM483.01 255.11a1.45 1.45 0 1 0 2.9 0a1.45 1.45 0 1 0 -2.9 0zM484.67 254.42a1.45 1.45 0 1 0 2.9 0a1.45 1.45 0 1 0 -2.9 0zM486.33 253.73a1.45 1.45 0 1 0 2.9 0a1.45 1.45 0 1 0 -2.9 0zM487.98 253.24a1.45 1.45 0 1 0 2.9 0a1.45 1.45 0 1 0 -2.9 0zM489.64 252.75a1.45 1.45 0 1 0 2.9 0a1.45 1.45 0 1 0 -2.9 0zM491.29 252.26a1.45 1.45 0 1 0 2.9 0a1.45 1.45 0 1 0 -2.9 0zM492.95 251.77a1.45 1.45 0 1 0 2.9 0a1.45 1.45 0 1 0 -2.9 0zM494.61 251.27a1.45 1.45 0 1 0 2.9 0a1.45 1.45 0 1 0 -2.9 0zM496.26 250.78a1.45 1.45 0 1 0 2.9 0a1.45 1.45 0 1 0 -2.9 0zM497.92 250.29a1.45 1.45 0 1 0 2.9 0a1.45 1.45 0 1 0 -2.9 0zM499.57 249.92a1.45 1.45 0 1 0 2.9 0a1.45 1.45 0 1 0 -2.9 0zM501.23 249.73a1.45 1.45 0 1 0 2.9 0a1.45 1.45 0 1 0 -2.9 0zM502.89 249.54a1.45 1.45 0 1 0 2.9 0a1.45 1.45 0 1 0 -2.9 0zM504.54 249.35a1.45 1.45 0 1 0 2.9 0a1.45 1.45 0 1 0 -2.9 0zM506.2 249.16a1.45 1.45 0 1 0 2.9 0a1.45 1.45 0 1 0 -2.9 0zM507.85 248.97a1.45 1.45 0 1 0 2.9 0a1.45 1.45 0 1 0 -2.9 0zM509.51 248.78a1.45 1.45 0 1 0 2.9 0a1.45 1.45 0 1 0 -2.9 0zM511.17 248.59a1.45 1.45 0 1 0 2.9 0a1.45 1.45 0 1 0 -2.9 0zM512.82 248.4a1.45 1.45 0 1 0 2.9 0a1.45 1.45 0 1 0 -2.9 0zM513.65 248.3a1.45 1.45 0 1 0 2.9 0a1.45 1.45 0 1 0 -2.9 0z" stroke="#ff0000" stroke-width="1.0" fill="none"/>
<path d="M341.76 411.86L343.26 411.86L344.76 411.86L346.26 411.86L347.76 405.32L349.27 405.32L350.77 405.32L352.27 405.32L353.77 405.32L355.27 405.32L356.77 405.32L358.27 405.32L359.77 405.32L361.28 405.32L362.78 405.32L364.28 405.32L365.78 405.32L367.28 405.32L368.78 405.32L370.28 405.32L371.78 405.32L373.29 405.32L374.79 398.77L376.29 398.77L377.79 398.77L379.29 398.77L380.79 398.77L382.29 398.77L383.79 398.77L385.29 398.77L386.8 392.23L388.3 392.23L389.8 392.23L391.3 392.23L392.8 392.23L394.3 385.69L395.8 379.15L397.3 379.15L398.81 379.15L400.31 379.15L401.81 379.15L403.31 379.15L404.81 372.6L406.31 372.6L407.81 372.6L409.31 372.6L410.82 372.6L412.32 372.6L413.82 372.6L415.32 366.06L416.82 359.52L418.32 352.98L419.82 352.98L421.32 352.98L422.82 352.98L424.33 352.98L425.83 346.43L427.33 333.35L428.83 333.35L430.33 333.35L431.83 333.35L433.33 326.81L434.83 320.27L436.34 313.72L437.84 313.72L439.34 307.18L440.84 294.1L442.34 294.1L443.84 274.47L445.34 274.47L446.84 274.47L448.35 274.47L449.85 267.93L451.35 267.93L452.85 267.93L454.35 267.93L455.85 261.38L457.35 261.38L458.85 261.38L460.35 261.38L461.86 261.38L463.36 261.38L464.86 261.38L466.36 261.38L467.86 261.38L469.36 261.38L470.86 254.84L472.36 254.84L473.87 254.84L475.37 254.84L476.87 254.84L478.37 254.84L479.87 254.84L481.37 254.84L482.87 254.84L484.37 254.84L485.88 254.84L487.38 254.84L488.88 254.84L490.38 248.3" stroke="#00ff00" stroke-width="0.9" fill="none" stroke-linejoin="round"/>
<path d="M340.06 410.5l3.4 0l-1.7 3.23zM341.56 410.5l3.4 0l-1.7 3.23zM343.06 410.5l3.4 0l-1.7 3.23zM344.56 410.5l3.4 0l-1.7 3.23zM346.06 403.96l3.4 0l-1.7 3.23zM347.57 403.96l3.4 0l-1.7 3.23zM349.07 403.96l3.4 0l-1.7 3.23zM350.57 403.96l3.4 0l-1.7 3.23zM352.07 403.96l3.4 0l-1.7 3.23zM353.57 403.96l3.4 0l-1.7 3.23zM355.07 403.96l3.4 0l-1.7 3.23zM356.57 403.96l3.4 0l-1.7 3.23zM358.07 403.96l3.4 0l-1.7 3.23zM359.58 403.96l3.4 0l-1.7 3.23zM361.08 403.96l3.4 0l-1.7 3.23zM362.58 403.96l3.4 0l-1.7 3.23zM364.08 403.96l3.4 0l-1.7 3.23zM365.58 403.96l3.4 0l-1.7 3.23zM367.08 403.96l3.4 0l-1.7 3.23zM368.58 403.96l3.4 0l-1.7 3.23zM370.08 403.96l3.4 0l-1.7 3.23zM371.59 403.96l3.4 0l-1.7 3.23zM373.09 397.41l3.4 0l-1.7 3.23zM374.59 397.41l3.4 0l-1.7 3.23zM376.09 397.41l3.4 0l-1.7 3.23zM377.59 397.41l3.4 0l-1.7 3.23zM379.09 397.41l3.4 0l-1.7 3.23zM380.59 397.41l3.4 0l-1.7 3.23zM382.09 397.41l3.4 0l-1.7 3.23zM383.59 397.41l3.4 0l-1.7 3.23zM385.1 390.87l3.4 0l-1.7 3.23zM386.6 390.87l3.4 0l-1.7 3.23zM388.1 390.87l3.4 0l-1.7 3.23zM389.6 390.87l3.4 0l-1.7 3.23zM391.1 390.87l3.4 0l-1.7 3.23zM392.6 384.33l3.4 0l-1.7 3.23zM394.1 377.79l3.4 0l-1.7 3.23zM395.6 377.79l3.4 0l-1.7 3.23zM397.11 377.79l3.4 0l-1.7 3.23zM398.61 377.79l3.4 0l-1.7 3.23zM400.11 377.79l3.4 0l-1.7 3.23zM401.61 377.79l3.4 0l-1.7 3.23zM403.11 371.24l3.4 0l-1.7 3.23zM404.61 371.24l3.4 0l-1.7 3.23zM406.11 371.24l3.4 0l-1.7 3.23zM407.61 371.24l3.4 0l-1.7 3.23zM409.12 371.24l3.4 0l-1.7 3.23zM410.62 371.24l3.4 0l-1.7 3.23zM412.12 371.24l3.4 0l-1.7 3.23zM413.62 364.7l3.4 0l-1.7 3.23zM415.12 358.16l3.4 0l-1.7 3.23zM416.62 351.62l3.4 0l-1.7 3.23zM418.12 351.62l3.4 0l-1.7 3.23zM419.62 351.62l3.4 0l-1.7 3.23zM421.12 351.62l3.4 0l-1.7 3.23zM422.63 351.62l3.4 0l-1.7 3.23zM424.13 345.07l3.4 0l-1.7 3.23zM425.63 331.99l3.4 0l-1.7 3.23zM427.13 331.99l3.4 0l-1.7 3.23zM428.63 331.99l3.4 0l-1.7 3.23zM430.13 331.99l3.4 0l-1.7 3.23zM431.63 325.45l3.4 0l-1.7 3.23zM433.13 318.91l3.4 0l-1.7 3.23zM434.64 312.36l3.4 0l-1.7 3.23zM436.14 312.36l3.4 0l-1.7 3.23zM437.64 305.82l3.4 0l-1.7 3.23zM439.14 292.74l3.4 0l-1.7 3.23zM440.64 292.74l3.4 0l-1.7 3.23zM442.14 273.11l3.4 0l-1.7 3.23zM443.64 273.11l3.4 0l-1.7 3.23zM445.14 273.11l3.4 0l-1.7 3.23zM446.65 273.11l3.4 0l-1.7 3.23zM448.15 266.57l3.4 0l-1.7 3.23zM449.65 266.57l3.4 0l-1.7 3.23zM451.15 266.57l3.4 0l-1.7 3.23zM452.65 266.57l3.4 0l-1.7 3.23zM454.15 260.02l3.4 0l-1.7 3.23zM455.65 260.02l3.4 0l-1.7 3.23zM457.15 260.02l3.4 0l-1.7 3.23zM458.65 260.02l3.4 0l-1.7 3.23zM460.16 260.02l3.4 0l-1.7 3.23zM461.66 260.02l3.4 0l-1.7 3.23zM463.16 260.02l3.4 0l-1.7 3.23zM464.66 260.02l3.4 0l-1.7 3.23zM466.16 260.02l3.4 0l-1.7 3.23zM467.66 260.02l3.4 0l-1.7 3.23zM469.16 253.48l3.4 0l-1.7 3.23zM470.66 253.48l3.4 0l-1.7 3.23zM472.17 253.48l3.4 0l-1.7 3.23zM473.67 253.48l3.4 0l-1.7 3.23zM475.17 253.48l3.4 0l-1.7 3.23zM476.67 253.48l3.4 0l-1.7 3.23zM478.17 253.48l3.4 0l-1.7 3.23zM479.67 253.48l3.4 0l-1.7 3.23zM481.17 253.48l3.4 0l-1.7 3.23zM482.67 253.48l3.4 0l-1.7 3.23zM484.18 253.48l3.4 0l-1.7 3.23zM485.68 253.48l3.4 0l-1.7 3.23zM487.18 253.48l3.4 0l-1.7 3.23zM488.68 246.94l3.4 0l-1.7 3.23z" stroke="#00ff00" stroke-width="0.7" fill="#00ff00"/>
<path d="M328.8 417.55L330.46 417.31L332.11 417.07L333.77 416.83L335.42 416.59L337.08 416.35L338.74 416.11L340.39 415.88L342.05 415.64L343.7 415.43L345.36 415.22L347.02 415L348.67 414.79L350.33 414.58L351.98 414.37L353.64 414.15L355.3 413.94L356.95 413.73L358.61 413.51L360.26 413.3L361.92 413.03L363.58 412.75L365.23 412.47L366.89 412.19L368.54 411.92L370.2 411.64L371.86 411.36L373.51 411.09L375.17 410.81L376.82 410.53L378.48 410.13L380.14 409.61L381.79 409.1L383.45 408.59L385.1 408.08L386.76 407.57L388.42 406.96L390.07 406.29L391.73 405.62L393.38 404.95L395.04 404.28L396.7 403.53L398.35 402.51L400.01 401.49L401.66 400.48L403.32 399.46L404.98 398.27L406.63 397.06L408.29 395.85L409.94 394.64L411.6 393.36L413.26 391.42L414.91 389.48L416.57 387.55L418.22 385.61L419.88 382.03L421.54 378.4L423.19 374.71L424.85 371.03L426.5 367.35L428.16 363.94L429.82 360.75L431.47 357.57L433.13 354.23L434.78 350.75L436.44 347.01L438.1 341.22L439.75 335.43L441.41 329.27L443.06 323.08L444.72 317.12L446.38 311.36L448.03 305.67L449.69 300.42L451.34 295.17L453 290.09L454.66 286.49L456.31 282.88L457.97 279.28L459.62 276.34L461.28 274.02L462.94 271.69L464.59 269.36L466.25 267.27L467.9 265.76L469.56 264.25L471.22 262.74L472.87 261.24L474.53 259.73L476.18 258.56L477.84 257.87L479.5 257.18L481.15 256.49L482.81 255.8L484.46 255.11L486.12 254.42L487.78 253.73L489.43 253.24L491.09 252.75L492.74 252.26L494.4 251.77L496.06 251.27L497.71 250.78L499.37 250.29L501.02 249.92L502.68 249.73L504.34 249.54L505.99 249.35L507.65 249.16L509.3 248.97L510.96 248.78L512.62 248.59L514.27 248.4L515.1 248.3" stroke="#000000" stroke-width="0.8" fill="none" stroke-linejoin="round"/>
<path d="M328.8 415.86l1.25 1.69l-1.25 1.69l-1.25 -1.69zM330.46 415.62l1.25 1.69l-1.25 1.69l-1.25 -1.69zM332.11 415.38l1.25 1.69l-1.25 1.69l-1.25 -1.69zM333.77 415.14l1.25 1.69l-1.25 1.69l-1.25 -1.69zM335.42 414.91l1.25 1.69l-1.25 1.69l-1.25 -1.69zM337.08 414.67l1.25 1.69l-1.25 1.69l-1.25 -1.69zM338.74 414.43l1.25 1.69l-1.25 1.69l-1.25 -1.69zM340.39 414.19l1.25 1.69l-1.25 1.69l-1.25 -1.69zM342.05 413.95l1.25 1.69l-1.25 1.69l-1.25 -1.69zM343.7 413.74l1.25 1.69l-1.25 1.69l-1.25 -1.69zM345.36 413.53l1.25 1.69l-1.25 1.69l-1.25 -1.69zM347.02 413.32l1.25 1.69l-1.25 1.69l-1.25 -1.69zM348.67 413.1l1.25 1.69l-1.25 1.69l-1.25 -1.69zM350.33 412.89l1.25 1.69l-1.25 1.69l-1.25 -1.69zM351.98 412.68l1.25 1.69l-1.25 1.69l-1.25 -1.69zM353.64 412.46l1.25 1.69l-1.25 1.69l-1.25 -1.69zM355.3 412.25l1.25 1.69l-1.25 1.69l-1.25 -1.69zM356.95 412.04l1.25 1.69l-1.25 1.69l-1.25 -1.69zM358.61 411.83l1.25 1.69l-1.25 1.69l-1.25 -1.69zM360.26 411.61l1.25 1.69l-1.25 1.69l-1.25 -1.69zM361.92 411.34l1.25 1.69l-1.25 1.69l-1.25 -1.69zM363.58 411.06l1.25 1.69l-1.25 1.69l-1.25 -1.69zM365.23 410.78l1.25 1.69l-1.25 1.69l-1.25 -1.69zM366.89 410.51l1.25 1.69l-1.25 1.69l-1.25 -1.69zM368.54 410.23l1.25 1.69l-1.25 1.69l-1.25 -1.69zM370.2 409.95l1.25 1.69l-1.25 1.69l-1.25 -1.69zM371.86 409.68l1.25 1.69l-1.25 1.69l-1.25 -1.69zM373.51 409.4l1.25 1.69l-1.25 1.69l-1.25 -1.69zM375.17 409.12l1.25 1.69l-1.25 1.69l-1.25 -1.69zM376.82 408.84l1.25 1.69l-1.25 1.69l-1.25 -1.69zM378.48 408.44l1.25 1.69l-1.25 1.69l-1.25 -1.69zM380.14 407.93l1.25 1.69l-1.25 1.69l-1.25 -1.69zM381.79 407.42l1.25 1.69l-1.25 1.69l-1.25 -1.69zM383.45 406.9l1.25 1.69l-1.25 1.69l-1.25 -1.69zM385.1 406.39l1.25 1.69l-1.25 1.69l-1.25 -1.69zM386.76 405.88l1.25 1.69l-1.25 1.69l-1.25 -1.69zM388.42 405.28l1.25 1.69l-1.25 1.69l-1.25 -1.69zM390.07 404.61l1.25 1.69l-1.25 1.69l-1.25 -1.69zM391.73 403.94l1.25 1.69l-1.25 1.69l-1.25 -1.69zM393.38 403.26l1.25 1.69l-1.25 1.69l-1.25 -1.69zM395.04 402.59l1.25 1.69l-1.25 1.69l-1.25 -1.69zM396.7 401.84l1.25 1.69l-1.25 1.69l-1.25 -1.69zM398.35 400.82l1.25 1.69l-1.25 1.69l-1.25 -1.69zM400.01 399.81l1.25 1.69l-1.25 1.69l-1.25 -1.69zM401.66 398.79l1.25 1.69l-1.25 1.69l-1.25 -1.69zM403.32 397.77l1.25 1.69l-1.25 1.69l-1.25 -1.69zM404.98 396.58l1.25 1.69l-1.25 1.69l-1.25 -1.69zM406.63 395.37l1.25 1.69l-1.25 1.69l-1.25 -1.69zM408.29 394.16l1.25 1.69l-1.25 1.69l-1.25 -1.69zM409.94 392.96l1.25 1.69l-1.25 1.69l-1.25 -1.69zM411.6 391.67l1.25 1.69l-1.25 1.69l-1.25 -1.69zM413.26 389.73l1.25 1.69l-1.25 1.69l-1.25 -1.69zM414.91 387.8l1.25 1.69l-1.25 1.69l-1.25 -1.69zM416.57 385.86l1.25 1.69l-1.25 1.69l-1.25 -1.69zM418.22 383.93l1.25 1.69l-1.25 1.69l-1.25 -1.69zM419.88 380.34l1.25 1.69l-1.25 1.69l-1.25 -1.69zM421.54 376.71l1.25 1.69l-1.25 1.69l-1.25 -1.69zM423.19 373.03l1.25 1.69l-1.25 1.69l-1.25 -1.69zM424.85 369.34l1.25 1.69l-1.25 1.69l-1.25 -1.69zM426.5 365.66l1.25 1.69l-1.25 1.69l-1.25 -1.69zM428.16 362.25l1.25 1.69l-1.25 1.69l-1.25 -1.69zM429.82 359.06l1.25 1.69l-1.25 1.69l-1.25 -1.69zM431.47 355.88l1.25 1.69l-1.25 1.69l-1.25 -1.69zM433.13 352.54l1.25 1.69l-1.25 1.69l-1.25 -1.69zM434.78 349.06l1.25 1.69l-1.25 1.69l-1.25 -1.69zM436.44 345.32l1.25 1.69l-1.25 1.69l-1.25 -1.69zM438.1 339.53l1.25 1.69l-1.25 1.69l-1.25 -1.69zM439.75 333.74l1.25 1.69l-1.25 1.69l-1.25 -1.69zM441.41 327.58l1.25 1.69l-1.25 1.69l-1.25 -1.69zM443.06 321.39l1.25 1.69l-1.25 1.69l-1.25 -1.69zM444.72 315.43l1.25 1.69l-1.25 1.69l-1.25 -1.69zM446.38 309.67l1.25 1.69l-1.25 1.69l-1.25 -1.69zM448.03 303.99l1.25 1.69l-1.25 1.69l-1.25 -1.69zM449.69 298.73l1.25 1.69l-1.25 1.69l-1.25 -1.69zM451.34 293.48l1.25 1.69l-1.25 1.69l-1.25 -1.69zM453 288.41l1.25 1.69l-1.25 1.69l-1.25 -1.69zM454.66 284.8l1.25 1.69l-1.25 1.69l-1.25 -1.69zM456.31 281.2l1.25 1.69l-1.25 1.69l-1.25 -1.69zM457.97 277.59l1.25 1.69l-1.25 1.69l-1.25 -1.69zM459.62 274.66l1.25 1.69l-1.25 1.69l-1.25 -1.69zM461.28 272.33l1.25 1.69l-1.25 1.69l-1.25 -1.69zM462.94 270l1.25 1.69l-1.25 1.69l-1.25 -1.69zM464.59 267.67l1.25 1.69l-1.25 1.69l-1.25 -1.69zM466.25 265.58l1.25 1.69l-1.25 1.69l-1.25 -1.69zM467.9 264.07l1.25 1.69l-1.25 1.69l-1.25 -1.69zM469.56 262.56l1.25 1.69l-1.25 1.69l-1.25 -1.69zM471.22 261.06l1.25 1.69l-1.25 1.69l-1.25 -1.69zM472.87 259.55l1.25 1.69l-1.25 1.69l-1.25 -1.69zM474.53 258.04l1.25 1.69l-1.25 1.69l-1.25 -1.69zM476.18 256.87l1.25 1.69l-1.25 1.69l-1.25 -1.69zM477.84 256.18l1.25 1.69l-1.25 1.69l-1.25 -1.69zM479.5 255.49l1.25 1.69l-1.25 1.69l-1.25 -1.69zM481.15 254.8l1.25 1.69l-1.25 1.69l-1.25 -1.69zM482.81 254.11l1.25 1.69l-1.25 1.69l-1.25 -1.69zM484.46 253.42l1.25 1.69l-1.25 1.69l-1.25 -1.69zM486.12 252.73l1.25 1.69l-1.25 1.69l-1.25 -1.69zM487.78 252.05l1.25 1.69l-1.25 1.69l-1.25 -1.69zM489.43 251.55l1.25 1.69l-1.25 1.69l-1.25 -1.69zM491.09 251.06l1.25 1.69l-1.25 1.69l-1.25 -1.69zM492.74 250.57l1.25 1.69l-1.25 1.69l-1.25 -1.69zM494.4 250.08l1.25 1.69l-1.25 1.69l-1.25 -1.69zM496.06 249.59l1.25 1.69l-1.25 1.69l-1.25 -1.69zM497.71 249.09l1.25 1.69l-1.25 1.69l-1.25 -1.69zM499.37 248.6l1.25 1.69l-1.25 1.69l-1.25 -1.69zM501.02 248.23l1.25 1.69l-1.25 1.69l-1.25 -1.69zM502.68 248.04l1.25 1.69l-1.25 1.69l-1.25 -1.69zM504.34 247.85l1.25 1.69l-1.25 1.69l-1.25 -1.69zM505.99 247.66l1.25 1.69l-1.25 1.69l-1.25 -1.69zM507.65 247.47l1.25 1.69l-1.25 1.69l-1.25 -1.69zM509.3 247.28l1.25 1.69l-1.25 1.69l-1.25 -1.69zM510.96 247.09l1.25 1.69l-1.25 1.69l-1.25 -1.69zM512.62 246.9l1.25 1.69l-1.25 1.69l-1.25 -1.69zM514.27 246.71l1.25 1.69l-1.25 1.69l-1.25 -1.69zM515.1 246.61l1.25 1.69l-1.25 1.69l-1.25 -1.69z" stroke="#000000" stroke-width="0.8" fill="none"/>
<rect x="324.3" y="248.3" width="216" height="170.1" fill="none" stroke="#222" stroke-width="1.2"/>
<path d="M360.3 418.4v-2.2M360.3 248.3v2.2M396.3 418.4v-2.2M396.3 248.3v2.2M432.3 418.4v-2.2M432.3 248.3v2.2M468.3 418.4v-2.2M468.3 248.3v2.2M504.3 418.4v-2.2M504.3 248.3v2.2M324.3 401.39h2.2M540.3 401.39h-2.2M324.3 384.38h2.2M540.3 384.38h-2.2M324.3 367.37h2.2M540.3 367.37h-2.2M324.3 350.36h2.2M540.3 350.36h-2.2M324.3 333.35h2.2M540.3 333.35h-2.2M324.3 316.34h2.2M540.3 316.34h-2.2M324.3 299.33h2.2M540.3 299.33h-2.2M324.3 282.32h2.2M540.3 282.32h-2.2M324.3 265.31h2.2M540.3 265.31h-2.2" stroke="#222" stroke-width="0.8" fill="none"/>
<text x="324.3" y="426.8" class="tk" text-anchor="middle">0</text>
<text x="360.3" y="426.8" class="tk" text-anchor="middle">1</text>
<text x="396.3" y="426.8" class="tk" text-anchor="middle">2</text>
<text x="432.3" y="426.8" class="tk" text-anchor="middle">3</text>
<text x="468.3" y="426.8" class="tk" text-anchor="middle">4</text>
<text x="504.3" y="426.8" class="tk" text-anchor="middle">5</text>
<text x="540.3" y="426.8" class="tk" text-anchor="middle">6</text>
<text x="322.5" y="420.9" class="tk" text-anchor="end">0</text>
<text x="322.5" y="403.89" class="tk" text-anchor="end">0.1</text>
<text x="322.5" y="386.88" class="tk" text-anchor="end">0.2</text>
<text x="322.5" y="369.87" class="tk" text-anchor="end">0.3</text>
<text x="322.5" y="352.86" class="tk" text-anchor="end">0.4</text>
<text x="322.5" y="335.85" class="tk" text-anchor="end">0.5</text>
<text x="322.5" y="318.84" class="tk" text-anchor="end">0.6</text>
<text x="322.5" y="301.83" class="tk" text-anchor="end">0.7</text>
<text x="322.5" y="284.82" class="tk" text-anchor="end">0.8</text>
<text x="322.5" y="267.81" class="tk" text-anchor="end">0.9</text>
<text x="322.5" y="250.8" class="tk" text-anchor="end">1</text>
<text x="431.8" y="243.1" class="ti" text-anchor="middle">CDF</text>
<text transform="translate(310.4 334.35) rotate(-90)" class="yl" text-anchor="middle">Ratio</text>
<text x="432.3" y="433.9" class="xs" text-anchor="middle">MI</text>
<rect x="483.5" y="383" width="54.1" height="33.5" fill="#fff" stroke="#222" stroke-width="1"/>
<path d="M486.5 388h14" stroke="#0000ff" stroke-width="0.7"/>
<path d="M492.42 386.4l0 3.2l3.04 -1.6z" stroke="#0000ff" stroke-width="0.6" fill="#0000ff"/>
<text x="501.7" y="390.3" class="lg">SIFT Global</text>
<path d="M486.5 395.83h14" stroke="#ff0000" stroke-width="0.7"/>
<path d="M492.25 395.83a1.45 1.45 0 1 0 2.9 0a1.45 1.45 0 1 0 -2.9 0z" stroke="#ff0000" stroke-width="0.6" fill="none"/>
<text x="501.7" y="398.13" class="lg">SIFT Local</text>
<path d="M486.5 403.67h14" stroke="#00ff00" stroke-width="0.7"/>
<path d="M492 402.31l3.4 0l-1.7 3.23z" stroke="#00ff00" stroke-width="0.6" fill="#00ff00"/>
<text x="501.7" y="405.97" class="lg">OCT Global</text>
<path d="M486.5 411.5h14" stroke="#000000" stroke-width="0.7"/>
<path d="M493.7 409.81l1.25 1.69l-1.25 1.69l-1.25 -1.69z" stroke="#000000" stroke-width="0.6" fill="none"/>
<text x="501.7" y="413.8" class="lg">OCT Local</text>
<text x="425.6" y="458.3" class="sb" text-anchor="middle">(d)</text>
</g>
<text x="523.8" y="202.8" class="tk">x 10<tspan dy="-2.6" font-size="4.6">-3</tspan></text>
</svg>
</body></html>
